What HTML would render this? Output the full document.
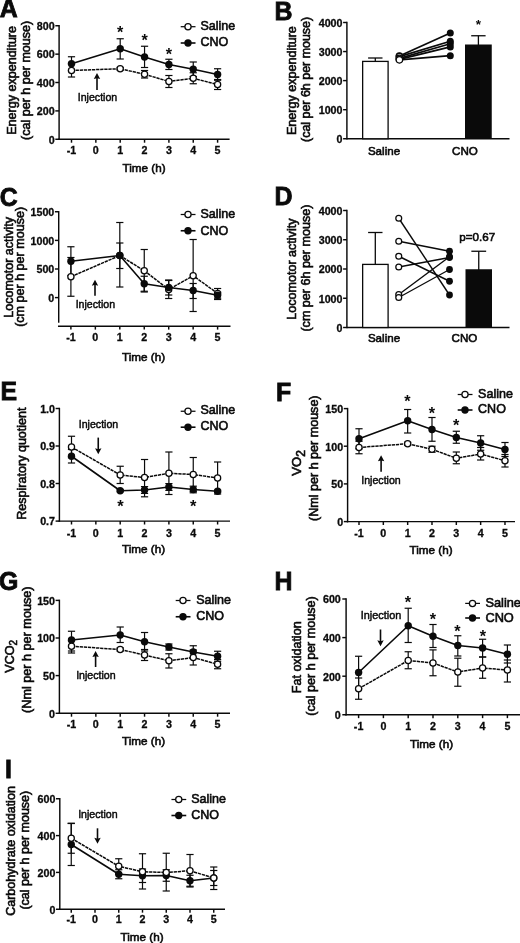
<!DOCTYPE html>
<html lang="en">
<head>
<meta charset="utf-8">
<title>Figure: energy expenditure, locomotor activity and substrate oxidation after saline or CNO injection</title>
<style>
html,body{margin:0;padding:0;background:#fff;}
body{width:520px;height:943px;overflow:hidden;}
svg{display:block;font-family:"Liberation Sans",sans-serif;fill:#0a0a0a;}
</style>
</head>
<body>
<svg role="img" aria-label="Nine-panel figure: energy expenditure, locomotor activity, respiratory quotient, VO2, VCO2, fat and carbohydrate oxidation after saline or CNO injection" width="520" height="943" viewBox="0 0 520 943">
<rect x="0" y="0" width="520" height="943" fill="#fff"/>
<g>
<text x="-0.3" y="17" font-size="24.9" font-weight="bold" stroke="#0a0a0a" stroke-width="0.8" stroke-linejoin="miter" text-anchor="start">A</text>
<line x1="59.1" y1="25.02" x2="59.1" y2="139.97" stroke="#0a0a0a" stroke-width="1.45" stroke-linecap="butt"/>
<line x1="55.3" y1="25.75" x2="59.1" y2="25.75" stroke="#0a0a0a" stroke-width="1.45" stroke-linecap="butt"/>
<text x="54.7" y="30" font-size="10.7" font-weight="bold" stroke="#0a0a0a" stroke-width="0.3" text-anchor="end">800</text>
<line x1="55.3" y1="54.15" x2="59.1" y2="54.15" stroke="#0a0a0a" stroke-width="1.45" stroke-linecap="butt"/>
<text x="54.7" y="58" font-size="10.7" font-weight="bold" stroke="#0a0a0a" stroke-width="0.3" text-anchor="end">600</text>
<line x1="55.3" y1="82.5" x2="59.1" y2="82.5" stroke="#0a0a0a" stroke-width="1.45" stroke-linecap="butt"/>
<text x="54.7" y="87" font-size="10.7" font-weight="bold" stroke="#0a0a0a" stroke-width="0.3" text-anchor="end">400</text>
<line x1="55.3" y1="110.9" x2="59.1" y2="110.9" stroke="#0a0a0a" stroke-width="1.45" stroke-linecap="butt"/>
<text x="54.7" y="115" font-size="10.7" font-weight="bold" stroke="#0a0a0a" stroke-width="0.3" text-anchor="end">200</text>
<line x1="55.3" y1="139.25" x2="59.1" y2="139.25" stroke="#0a0a0a" stroke-width="1.45" stroke-linecap="butt"/>
<text x="54.7" y="144" font-size="10.7" font-weight="bold" stroke="#0a0a0a" stroke-width="0.3" text-anchor="end">0</text>
<line x1="58.38" y1="139.3" x2="229.6" y2="139.3" stroke="#0a0a0a" stroke-width="1.45" stroke-linecap="butt"/>
<line x1="71.5" y1="139.3" x2="71.5" y2="142.7" stroke="#0a0a0a" stroke-width="1.45" stroke-linecap="butt"/>
<text x="71.5" y="154.45" font-size="10.7" font-weight="bold" stroke="#0a0a0a" stroke-width="0.3" text-anchor="middle">-1</text>
<line x1="95.85" y1="139.3" x2="95.85" y2="142.7" stroke="#0a0a0a" stroke-width="1.45" stroke-linecap="butt"/>
<text x="95.85" y="154.45" font-size="10.7" font-weight="bold" stroke="#0a0a0a" stroke-width="0.3" text-anchor="middle">0</text>
<line x1="120.2" y1="139.3" x2="120.2" y2="142.7" stroke="#0a0a0a" stroke-width="1.45" stroke-linecap="butt"/>
<text x="120.2" y="154.45" font-size="10.7" font-weight="bold" stroke="#0a0a0a" stroke-width="0.3" text-anchor="middle">1</text>
<line x1="144.55" y1="139.3" x2="144.55" y2="142.7" stroke="#0a0a0a" stroke-width="1.45" stroke-linecap="butt"/>
<text x="144.55" y="154.45" font-size="10.7" font-weight="bold" stroke="#0a0a0a" stroke-width="0.3" text-anchor="middle">2</text>
<line x1="168.9" y1="139.3" x2="168.9" y2="142.7" stroke="#0a0a0a" stroke-width="1.45" stroke-linecap="butt"/>
<text x="168.9" y="154.45" font-size="10.7" font-weight="bold" stroke="#0a0a0a" stroke-width="0.3" text-anchor="middle">3</text>
<line x1="193.25" y1="139.3" x2="193.25" y2="142.7" stroke="#0a0a0a" stroke-width="1.45" stroke-linecap="butt"/>
<text x="193.25" y="154.45" font-size="10.7" font-weight="bold" stroke="#0a0a0a" stroke-width="0.3" text-anchor="middle">4</text>
<line x1="217.6" y1="139.3" x2="217.6" y2="142.7" stroke="#0a0a0a" stroke-width="1.45" stroke-linecap="butt"/>
<text x="217.6" y="154.45" font-size="10.7" font-weight="bold" stroke="#0a0a0a" stroke-width="0.3" text-anchor="middle">5</text>
<text x="144" y="171.9" font-size="11.7" stroke="#0a0a0a" stroke-width="0.6" text-anchor="middle">Time (h)</text>
<text x="16.3" y="80.4" font-size="12.55" stroke="#0a0a0a" stroke-width="0.6" text-anchor="middle" transform="rotate(-90 16.3 80.4)">Energy expenditure</text>
<text x="29.6" y="80.4" font-size="12.55" stroke="#0a0a0a" stroke-width="0.6" text-anchor="middle" transform="rotate(-90 29.6 80.4)">(cal per h per mouse)</text>
<line x1="71.5" y1="56.75" x2="71.5" y2="70.75" stroke="#0a0a0a" stroke-width="1.2" stroke-linecap="butt"/>
<line x1="67.9" y1="56.75" x2="75.1" y2="56.75" stroke="#0a0a0a" stroke-width="1.2" stroke-linecap="butt"/>
<line x1="67.9" y1="70.75" x2="75.1" y2="70.75" stroke="#0a0a0a" stroke-width="1.2" stroke-linecap="butt"/>
<line x1="120.2" y1="38.75" x2="120.2" y2="59" stroke="#0a0a0a" stroke-width="1.2" stroke-linecap="butt"/>
<line x1="116.6" y1="38.75" x2="123.8" y2="38.75" stroke="#0a0a0a" stroke-width="1.2" stroke-linecap="butt"/>
<line x1="116.6" y1="59" x2="123.8" y2="59" stroke="#0a0a0a" stroke-width="1.2" stroke-linecap="butt"/>
<line x1="144.55" y1="46.25" x2="144.55" y2="67.5" stroke="#0a0a0a" stroke-width="1.2" stroke-linecap="butt"/>
<line x1="140.95" y1="46.25" x2="148.15" y2="46.25" stroke="#0a0a0a" stroke-width="1.2" stroke-linecap="butt"/>
<line x1="140.95" y1="67.5" x2="148.15" y2="67.5" stroke="#0a0a0a" stroke-width="1.2" stroke-linecap="butt"/>
<line x1="168.9" y1="59.25" x2="168.9" y2="69.5" stroke="#0a0a0a" stroke-width="1.2" stroke-linecap="butt"/>
<line x1="165.3" y1="59.25" x2="172.5" y2="59.25" stroke="#0a0a0a" stroke-width="1.2" stroke-linecap="butt"/>
<line x1="165.3" y1="69.5" x2="172.5" y2="69.5" stroke="#0a0a0a" stroke-width="1.2" stroke-linecap="butt"/>
<line x1="193.25" y1="62" x2="193.25" y2="76.5" stroke="#0a0a0a" stroke-width="1.2" stroke-linecap="butt"/>
<line x1="189.65" y1="62" x2="196.85" y2="62" stroke="#0a0a0a" stroke-width="1.2" stroke-linecap="butt"/>
<line x1="189.65" y1="76.5" x2="196.85" y2="76.5" stroke="#0a0a0a" stroke-width="1.2" stroke-linecap="butt"/>
<line x1="217.6" y1="68.75" x2="217.6" y2="80.25" stroke="#0a0a0a" stroke-width="1.2" stroke-linecap="butt"/>
<line x1="214" y1="68.75" x2="221.2" y2="68.75" stroke="#0a0a0a" stroke-width="1.2" stroke-linecap="butt"/>
<line x1="214" y1="80.25" x2="221.2" y2="80.25" stroke="#0a0a0a" stroke-width="1.2" stroke-linecap="butt"/>
<line x1="71.5" y1="64" x2="71.5" y2="77" stroke="#0a0a0a" stroke-width="1.2" stroke-linecap="butt"/>
<line x1="67.9" y1="64" x2="75.1" y2="64" stroke="#0a0a0a" stroke-width="1.2" stroke-linecap="butt"/>
<line x1="67.9" y1="77" x2="75.1" y2="77" stroke="#0a0a0a" stroke-width="1.2" stroke-linecap="butt"/>
<line x1="120.2" y1="67.5" x2="120.2" y2="70" stroke="#0a0a0a" stroke-width="1.2" stroke-linecap="butt"/>
<line x1="116.6" y1="67.5" x2="123.8" y2="67.5" stroke="#0a0a0a" stroke-width="1.2" stroke-linecap="butt"/>
<line x1="116.6" y1="70" x2="123.8" y2="70" stroke="#0a0a0a" stroke-width="1.2" stroke-linecap="butt"/>
<line x1="144.55" y1="70.5" x2="144.55" y2="78" stroke="#0a0a0a" stroke-width="1.2" stroke-linecap="butt"/>
<line x1="140.95" y1="70.5" x2="148.15" y2="70.5" stroke="#0a0a0a" stroke-width="1.2" stroke-linecap="butt"/>
<line x1="140.95" y1="78" x2="148.15" y2="78" stroke="#0a0a0a" stroke-width="1.2" stroke-linecap="butt"/>
<line x1="168.9" y1="75.5" x2="168.9" y2="87.5" stroke="#0a0a0a" stroke-width="1.2" stroke-linecap="butt"/>
<line x1="165.3" y1="75.5" x2="172.5" y2="75.5" stroke="#0a0a0a" stroke-width="1.2" stroke-linecap="butt"/>
<line x1="165.3" y1="87.5" x2="172.5" y2="87.5" stroke="#0a0a0a" stroke-width="1.2" stroke-linecap="butt"/>
<line x1="193.25" y1="72.75" x2="193.25" y2="83.75" stroke="#0a0a0a" stroke-width="1.2" stroke-linecap="butt"/>
<line x1="189.65" y1="72.75" x2="196.85" y2="72.75" stroke="#0a0a0a" stroke-width="1.2" stroke-linecap="butt"/>
<line x1="189.65" y1="83.75" x2="196.85" y2="83.75" stroke="#0a0a0a" stroke-width="1.2" stroke-linecap="butt"/>
<line x1="217.6" y1="79.5" x2="217.6" y2="89.5" stroke="#0a0a0a" stroke-width="1.2" stroke-linecap="butt"/>
<line x1="214" y1="79.5" x2="221.2" y2="79.5" stroke="#0a0a0a" stroke-width="1.2" stroke-linecap="butt"/>
<line x1="214" y1="89.5" x2="221.2" y2="89.5" stroke="#0a0a0a" stroke-width="1.2" stroke-linecap="butt"/>
<polyline points="71.5,63.75 120.2,48.75 144.55,57 168.9,64.5 193.25,69.25 217.6,74.5" fill="none" stroke="#0a0a0a" stroke-width="1.6" stroke-linejoin="round"/>
<polyline points="71.5,70.5 120.2,68.75 144.55,74.25 168.9,81.5 193.25,78.25 217.6,84.5" fill="none" stroke="#0a0a0a" stroke-width="1.5" stroke-linejoin="round" stroke-dasharray="3.3 0.8"/>
<circle cx="71.5" cy="63.75" r="3.7" fill="#0a0a0a"/>
<circle cx="120.2" cy="48.75" r="3.7" fill="#0a0a0a"/>
<circle cx="144.55" cy="57" r="3.7" fill="#0a0a0a"/>
<circle cx="168.9" cy="64.5" r="3.7" fill="#0a0a0a"/>
<circle cx="193.25" cy="69.25" r="3.7" fill="#0a0a0a"/>
<circle cx="217.6" cy="74.5" r="3.7" fill="#0a0a0a"/>
<circle cx="71.5" cy="70.5" r="3.1" fill="#fff" stroke="#0a0a0a" stroke-width="1.25"/>
<circle cx="120.2" cy="68.75" r="3.1" fill="#fff" stroke="#0a0a0a" stroke-width="1.25"/>
<circle cx="144.55" cy="74.25" r="3.1" fill="#fff" stroke="#0a0a0a" stroke-width="1.25"/>
<circle cx="168.9" cy="81.5" r="3.1" fill="#fff" stroke="#0a0a0a" stroke-width="1.25"/>
<circle cx="193.25" cy="78.25" r="3.1" fill="#fff" stroke="#0a0a0a" stroke-width="1.25"/>
<circle cx="217.6" cy="84.5" r="3.1" fill="#fff" stroke="#0a0a0a" stroke-width="1.25"/>
<text x="120.2" y="38.1" font-size="16.2" font-weight="bold" text-anchor="middle">*</text>
<text x="144.55" y="45.6" font-size="16.2" font-weight="bold" text-anchor="middle">*</text>
<text x="168.9" y="60.1" font-size="16.2" font-weight="bold" text-anchor="middle">*</text>
<line x1="97" y1="89.9" x2="97" y2="76.6" stroke="#0a0a0a" stroke-width="1.6" stroke-linecap="butt"/>
<path d="M97 73 L93.8 79 L97 78.16 L100.2 79 Z" fill="#0a0a0a"/>
<text x="97.5" y="101.2" font-size="10.6" stroke="#0a0a0a" stroke-width="0.45" text-anchor="middle">Injection</text>
<line x1="180.7" y1="26.7" x2="195.5" y2="26.7" stroke="#0a0a0a" stroke-width="1.25" stroke-linecap="butt"/>
<circle cx="188" cy="26.7" r="3.1" fill="#fff" stroke="#0a0a0a" stroke-width="1.25"/>
<text x="200.5" y="30" font-size="12.5" stroke="#0a0a0a" stroke-width="0.6" text-anchor="start">Saline</text>
<line x1="180.7" y1="43" x2="195.5" y2="43" stroke="#0a0a0a" stroke-width="1.6" stroke-linecap="butt"/>
<circle cx="188" cy="43" r="3.7" fill="#0a0a0a"/>
<text x="200.5" y="45.7" font-size="12.5" stroke="#0a0a0a" stroke-width="0.6" text-anchor="start">CNO</text>
</g>
<g>
<text x="274.5" y="19.85" font-size="24.9" font-weight="bold" stroke="#0a0a0a" stroke-width="0.8" stroke-linejoin="miter" text-anchor="start">B</text>
<line x1="346.9" y1="21.77" x2="346.9" y2="139.47" stroke="#0a0a0a" stroke-width="1.45" stroke-linecap="butt"/>
<line x1="343.1" y1="22.5" x2="346.9" y2="22.5" stroke="#0a0a0a" stroke-width="1.45" stroke-linecap="butt"/>
<text x="342.5" y="27" font-size="10.7" font-weight="bold" stroke="#0a0a0a" stroke-width="0.3" text-anchor="end">4000</text>
<line x1="343.1" y1="51.55" x2="346.9" y2="51.55" stroke="#0a0a0a" stroke-width="1.45" stroke-linecap="butt"/>
<text x="342.5" y="56" font-size="10.7" font-weight="bold" stroke="#0a0a0a" stroke-width="0.3" text-anchor="end">3000</text>
<line x1="343.1" y1="80.6" x2="346.9" y2="80.6" stroke="#0a0a0a" stroke-width="1.45" stroke-linecap="butt"/>
<text x="342.5" y="85" font-size="10.7" font-weight="bold" stroke="#0a0a0a" stroke-width="0.3" text-anchor="end">2000</text>
<line x1="343.1" y1="109.7" x2="346.9" y2="109.7" stroke="#0a0a0a" stroke-width="1.45" stroke-linecap="butt"/>
<text x="342.5" y="114" font-size="10.7" font-weight="bold" stroke="#0a0a0a" stroke-width="0.3" text-anchor="end">1000</text>
<line x1="343.1" y1="138.75" x2="346.9" y2="138.75" stroke="#0a0a0a" stroke-width="1.45" stroke-linecap="butt"/>
<text x="342.5" y="143" font-size="10.7" font-weight="bold" stroke="#0a0a0a" stroke-width="0.3" text-anchor="end">0</text>
<line x1="346.9" y1="138.75" x2="509.5" y2="138.75" stroke="#0a0a0a" stroke-width="1.45" stroke-linecap="butt"/>
<text x="296.4" y="80.6" font-size="12.55" stroke="#0a0a0a" stroke-width="0.6" text-anchor="middle" transform="rotate(-90 296.4 80.6)">Energy expenditure</text>
<text x="309.7" y="79.4" font-size="12.45" stroke="#0a0a0a" stroke-width="0.6" text-anchor="middle" transform="rotate(-90 309.7 79.4)">(cal per 6h per mouse)</text>
<line x1="375.3" y1="58" x2="375.3" y2="61" stroke="#0a0a0a" stroke-width="1.3" stroke-linecap="butt"/>
<line x1="368.1" y1="58" x2="382.5" y2="58" stroke="#0a0a0a" stroke-width="1.3" stroke-linecap="butt"/>
<rect x="362.65" y="61.4" width="25.45" height="77.35" fill="#fff" stroke="#0a0a0a" stroke-width="1.3"/>
<line x1="478.4" y1="35.75" x2="478.4" y2="45" stroke="#0a0a0a" stroke-width="1.3" stroke-linecap="butt"/>
<line x1="471.2" y1="35.75" x2="485.6" y2="35.75" stroke="#0a0a0a" stroke-width="1.3" stroke-linecap="butt"/>
<rect x="465" y="44.5" width="26.75" height="94.25" fill="#0a0a0a"/>
<line x1="399.4" y1="56" x2="450.3" y2="33" stroke="#0a0a0a" stroke-width="1.7" stroke-linecap="butt"/>
<line x1="399.4" y1="56.6" x2="450.3" y2="41.2" stroke="#0a0a0a" stroke-width="1.7" stroke-linecap="butt"/>
<line x1="399.4" y1="58.4" x2="450.3" y2="43.8" stroke="#0a0a0a" stroke-width="1.7" stroke-linecap="butt"/>
<line x1="399.4" y1="59.3" x2="450.3" y2="46.9" stroke="#0a0a0a" stroke-width="1.7" stroke-linecap="butt"/>
<line x1="399.4" y1="59.8" x2="450.3" y2="55.7" stroke="#0a0a0a" stroke-width="1.7" stroke-linecap="butt"/>
<circle cx="399.4" cy="56" r="3.2" fill="#fff" stroke="#0a0a0a" stroke-width="1.25"/>
<circle cx="399.4" cy="56.6" r="3.2" fill="#fff" stroke="#0a0a0a" stroke-width="1.25"/>
<circle cx="399.4" cy="58.4" r="3.2" fill="#fff" stroke="#0a0a0a" stroke-width="1.25"/>
<circle cx="399.4" cy="59.3" r="3.2" fill="#fff" stroke="#0a0a0a" stroke-width="1.25"/>
<circle cx="399.4" cy="59.8" r="3.2" fill="#fff" stroke="#0a0a0a" stroke-width="1.25"/>
<circle cx="450.3" cy="33" r="3.5" fill="#0a0a0a"/>
<circle cx="450.3" cy="41.2" r="3.5" fill="#0a0a0a"/>
<circle cx="450.3" cy="43.8" r="3.5" fill="#0a0a0a"/>
<circle cx="450.3" cy="46.9" r="3.5" fill="#0a0a0a"/>
<circle cx="450.3" cy="55.7" r="3.5" fill="#0a0a0a"/>
<text x="478.5" y="29.35" font-size="13.5" font-weight="bold" text-anchor="middle">*</text>
<text x="384" y="154.6" font-size="11.6" stroke="#0a0a0a" stroke-width="0.6" text-anchor="middle">Saline</text>
<text x="465" y="154.6" font-size="11.6" stroke="#0a0a0a" stroke-width="0.6" text-anchor="middle">CNO</text>
</g>
<g>
<text x="-0.3" y="205.6" font-size="24.9" font-weight="bold" stroke="#0a0a0a" stroke-width="0.8" stroke-linejoin="miter" text-anchor="start">C</text>
<line x1="58.7" y1="211.03" x2="58.7" y2="322.73" stroke="#0a0a0a" stroke-width="1.45" stroke-linecap="butt"/>
<line x1="54.9" y1="211.75" x2="58.7" y2="211.75" stroke="#0a0a0a" stroke-width="1.45" stroke-linecap="butt"/>
<text x="54.3" y="216" font-size="10.7" font-weight="bold" stroke="#0a0a0a" stroke-width="0.3" text-anchor="end">1500</text>
<line x1="54.9" y1="240.4" x2="58.7" y2="240.4" stroke="#0a0a0a" stroke-width="1.45" stroke-linecap="butt"/>
<text x="54.3" y="245" font-size="10.7" font-weight="bold" stroke="#0a0a0a" stroke-width="0.3" text-anchor="end">1000</text>
<line x1="54.9" y1="269" x2="58.7" y2="269" stroke="#0a0a0a" stroke-width="1.45" stroke-linecap="butt"/>
<text x="54.3" y="273" font-size="10.7" font-weight="bold" stroke="#0a0a0a" stroke-width="0.3" text-anchor="end">500</text>
<line x1="54.9" y1="297.6" x2="58.7" y2="297.6" stroke="#0a0a0a" stroke-width="1.45" stroke-linecap="butt"/>
<text x="54.3" y="302" font-size="10.7" font-weight="bold" stroke="#0a0a0a" stroke-width="0.3" text-anchor="end">0</text>
<line x1="57.98" y1="326.2" x2="230.5" y2="326.2" stroke="#0a0a0a" stroke-width="1.45" stroke-linecap="butt"/>
<line x1="70.9" y1="326.2" x2="70.9" y2="329.6" stroke="#0a0a0a" stroke-width="1.45" stroke-linecap="butt"/>
<text x="70.9" y="340.85" font-size="10.7" font-weight="bold" stroke="#0a0a0a" stroke-width="0.3" text-anchor="middle">-1</text>
<line x1="95.35" y1="326.2" x2="95.35" y2="329.6" stroke="#0a0a0a" stroke-width="1.45" stroke-linecap="butt"/>
<text x="95.35" y="340.85" font-size="10.7" font-weight="bold" stroke="#0a0a0a" stroke-width="0.3" text-anchor="middle">0</text>
<line x1="119.8" y1="326.2" x2="119.8" y2="329.6" stroke="#0a0a0a" stroke-width="1.45" stroke-linecap="butt"/>
<text x="119.8" y="340.85" font-size="10.7" font-weight="bold" stroke="#0a0a0a" stroke-width="0.3" text-anchor="middle">1</text>
<line x1="144.25" y1="326.2" x2="144.25" y2="329.6" stroke="#0a0a0a" stroke-width="1.45" stroke-linecap="butt"/>
<text x="144.25" y="340.85" font-size="10.7" font-weight="bold" stroke="#0a0a0a" stroke-width="0.3" text-anchor="middle">2</text>
<line x1="168.7" y1="326.2" x2="168.7" y2="329.6" stroke="#0a0a0a" stroke-width="1.45" stroke-linecap="butt"/>
<text x="168.7" y="340.85" font-size="10.7" font-weight="bold" stroke="#0a0a0a" stroke-width="0.3" text-anchor="middle">3</text>
<line x1="193.15" y1="326.2" x2="193.15" y2="329.6" stroke="#0a0a0a" stroke-width="1.45" stroke-linecap="butt"/>
<text x="193.15" y="340.85" font-size="10.7" font-weight="bold" stroke="#0a0a0a" stroke-width="0.3" text-anchor="middle">4</text>
<line x1="217.6" y1="326.2" x2="217.6" y2="329.6" stroke="#0a0a0a" stroke-width="1.45" stroke-linecap="butt"/>
<text x="217.6" y="340.85" font-size="10.7" font-weight="bold" stroke="#0a0a0a" stroke-width="0.3" text-anchor="middle">5</text>
<text x="143.5" y="361.2" font-size="11.7" stroke="#0a0a0a" stroke-width="0.6" text-anchor="middle">Time (h)</text>
<text x="12.7" y="267.3" font-size="12.5" stroke="#0a0a0a" stroke-width="0.6" text-anchor="middle" transform="rotate(-90 12.7 267.3)">Locomotor activity</text>
<text x="24.1" y="266.9" font-size="12.55" stroke="#0a0a0a" stroke-width="0.6" text-anchor="middle" transform="rotate(-90 24.1 266.9)">(cm per h per mouse)</text>
<line x1="70.9" y1="246.75" x2="70.9" y2="275.75" stroke="#0a0a0a" stroke-width="1.2" stroke-linecap="butt"/>
<line x1="67.3" y1="246.75" x2="74.5" y2="246.75" stroke="#0a0a0a" stroke-width="1.2" stroke-linecap="butt"/>
<line x1="67.3" y1="275.75" x2="74.5" y2="275.75" stroke="#0a0a0a" stroke-width="1.2" stroke-linecap="butt"/>
<line x1="119.8" y1="243" x2="119.8" y2="268.5" stroke="#0a0a0a" stroke-width="1.2" stroke-linecap="butt"/>
<line x1="116.2" y1="243" x2="123.4" y2="243" stroke="#0a0a0a" stroke-width="1.2" stroke-linecap="butt"/>
<line x1="116.2" y1="268.5" x2="123.4" y2="268.5" stroke="#0a0a0a" stroke-width="1.2" stroke-linecap="butt"/>
<line x1="144.25" y1="276.25" x2="144.25" y2="291.25" stroke="#0a0a0a" stroke-width="1.2" stroke-linecap="butt"/>
<line x1="140.65" y1="276.25" x2="147.85" y2="276.25" stroke="#0a0a0a" stroke-width="1.2" stroke-linecap="butt"/>
<line x1="140.65" y1="291.25" x2="147.85" y2="291.25" stroke="#0a0a0a" stroke-width="1.2" stroke-linecap="butt"/>
<line x1="168.7" y1="280" x2="168.7" y2="295" stroke="#0a0a0a" stroke-width="1.2" stroke-linecap="butt"/>
<line x1="165.1" y1="280" x2="172.3" y2="280" stroke="#0a0a0a" stroke-width="1.2" stroke-linecap="butt"/>
<line x1="165.1" y1="295" x2="172.3" y2="295" stroke="#0a0a0a" stroke-width="1.2" stroke-linecap="butt"/>
<line x1="193.15" y1="283.5" x2="193.15" y2="298.5" stroke="#0a0a0a" stroke-width="1.2" stroke-linecap="butt"/>
<line x1="189.55" y1="283.5" x2="196.75" y2="283.5" stroke="#0a0a0a" stroke-width="1.2" stroke-linecap="butt"/>
<line x1="189.55" y1="298.5" x2="196.75" y2="298.5" stroke="#0a0a0a" stroke-width="1.2" stroke-linecap="butt"/>
<line x1="217.6" y1="292.2" x2="217.6" y2="298.2" stroke="#0a0a0a" stroke-width="1.2" stroke-linecap="butt"/>
<line x1="214" y1="292.2" x2="221.2" y2="292.2" stroke="#0a0a0a" stroke-width="1.2" stroke-linecap="butt"/>
<line x1="214" y1="298.2" x2="221.2" y2="298.2" stroke="#0a0a0a" stroke-width="1.2" stroke-linecap="butt"/>
<line x1="70.9" y1="257.5" x2="70.9" y2="296.25" stroke="#0a0a0a" stroke-width="1.2" stroke-linecap="butt"/>
<line x1="67.3" y1="257.5" x2="74.5" y2="257.5" stroke="#0a0a0a" stroke-width="1.2" stroke-linecap="butt"/>
<line x1="67.3" y1="296.25" x2="74.5" y2="296.25" stroke="#0a0a0a" stroke-width="1.2" stroke-linecap="butt"/>
<line x1="119.8" y1="222.5" x2="119.8" y2="287" stroke="#0a0a0a" stroke-width="1.2" stroke-linecap="butt"/>
<line x1="116.2" y1="222.5" x2="123.4" y2="222.5" stroke="#0a0a0a" stroke-width="1.2" stroke-linecap="butt"/>
<line x1="116.2" y1="287" x2="123.4" y2="287" stroke="#0a0a0a" stroke-width="1.2" stroke-linecap="butt"/>
<line x1="144.25" y1="249.5" x2="144.25" y2="292" stroke="#0a0a0a" stroke-width="1.2" stroke-linecap="butt"/>
<line x1="140.65" y1="249.5" x2="147.85" y2="249.5" stroke="#0a0a0a" stroke-width="1.2" stroke-linecap="butt"/>
<line x1="140.65" y1="292" x2="147.85" y2="292" stroke="#0a0a0a" stroke-width="1.2" stroke-linecap="butt"/>
<line x1="168.7" y1="280.5" x2="168.7" y2="298.5" stroke="#0a0a0a" stroke-width="1.2" stroke-linecap="butt"/>
<line x1="165.1" y1="280.5" x2="172.3" y2="280.5" stroke="#0a0a0a" stroke-width="1.2" stroke-linecap="butt"/>
<line x1="165.1" y1="298.5" x2="172.3" y2="298.5" stroke="#0a0a0a" stroke-width="1.2" stroke-linecap="butt"/>
<line x1="193.15" y1="239.5" x2="193.15" y2="311.5" stroke="#0a0a0a" stroke-width="1.2" stroke-linecap="butt"/>
<line x1="189.55" y1="239.5" x2="196.75" y2="239.5" stroke="#0a0a0a" stroke-width="1.2" stroke-linecap="butt"/>
<line x1="189.55" y1="311.5" x2="196.75" y2="311.5" stroke="#0a0a0a" stroke-width="1.2" stroke-linecap="butt"/>
<line x1="217.6" y1="288.5" x2="217.6" y2="299.5" stroke="#0a0a0a" stroke-width="1.2" stroke-linecap="butt"/>
<line x1="214" y1="288.5" x2="221.2" y2="288.5" stroke="#0a0a0a" stroke-width="1.2" stroke-linecap="butt"/>
<line x1="214" y1="299.5" x2="221.2" y2="299.5" stroke="#0a0a0a" stroke-width="1.2" stroke-linecap="butt"/>
<polyline points="70.9,261.25 119.8,255.5 144.25,283.75 168.7,287.5 193.15,290.5 217.6,295.2" fill="none" stroke="#0a0a0a" stroke-width="1.6" stroke-linejoin="round"/>
<polyline points="70.9,276.75 119.8,255.5 144.25,270.75 168.7,289.5 193.15,275.75 217.6,293.4" fill="none" stroke="#0a0a0a" stroke-width="1.5" stroke-linejoin="round" stroke-dasharray="3.3 0.8"/>
<circle cx="70.9" cy="276.75" r="3.1" fill="#fff" stroke="#0a0a0a" stroke-width="1.25"/>
<circle cx="119.8" cy="255.5" r="3.1" fill="#fff" stroke="#0a0a0a" stroke-width="1.25"/>
<circle cx="144.25" cy="270.75" r="3.1" fill="#fff" stroke="#0a0a0a" stroke-width="1.25"/>
<circle cx="168.7" cy="289.5" r="3.1" fill="#fff" stroke="#0a0a0a" stroke-width="1.25"/>
<circle cx="193.15" cy="275.75" r="3.1" fill="#fff" stroke="#0a0a0a" stroke-width="1.25"/>
<circle cx="217.6" cy="293.4" r="3.1" fill="#fff" stroke="#0a0a0a" stroke-width="1.25"/>
<circle cx="70.9" cy="261.25" r="3.7" fill="#0a0a0a"/>
<circle cx="119.8" cy="255.5" r="3.7" fill="#0a0a0a"/>
<circle cx="144.25" cy="283.75" r="3.7" fill="#0a0a0a"/>
<circle cx="168.7" cy="287.5" r="3.7" fill="#0a0a0a"/>
<circle cx="193.15" cy="290.5" r="3.7" fill="#0a0a0a"/>
<circle cx="217.6" cy="295.2" r="3.7" fill="#0a0a0a"/>
<line x1="95" y1="295.8" x2="95" y2="283.3" stroke="#0a0a0a" stroke-width="1.6" stroke-linecap="butt"/>
<path d="M95 279.7 L91.8 285.7 L95 284.86 L98.2 285.7 Z" fill="#0a0a0a"/>
<text x="95.4" y="307.6" font-size="10.6" stroke="#0a0a0a" stroke-width="0.45" text-anchor="middle">Injection</text>
<line x1="180.7" y1="214.5" x2="195.5" y2="214.5" stroke="#0a0a0a" stroke-width="1.25" stroke-linecap="butt"/>
<circle cx="188" cy="214.5" r="3.1" fill="#fff" stroke="#0a0a0a" stroke-width="1.25"/>
<text x="200.5" y="218.4" font-size="12.5" stroke="#0a0a0a" stroke-width="0.6" text-anchor="start">Saline</text>
<line x1="180.7" y1="230.75" x2="195.5" y2="230.75" stroke="#0a0a0a" stroke-width="1.6" stroke-linecap="butt"/>
<circle cx="188" cy="230.75" r="3.7" fill="#0a0a0a"/>
<text x="200.5" y="234.5" font-size="12.5" stroke="#0a0a0a" stroke-width="0.6" text-anchor="start">CNO</text>
</g>
<g>
<text x="274.5" y="205.1" font-size="24.9" font-weight="bold" stroke="#0a0a0a" stroke-width="0.8" stroke-linejoin="miter" text-anchor="start">D</text>
<line x1="346.9" y1="209.78" x2="346.9" y2="328.23" stroke="#0a0a0a" stroke-width="1.45" stroke-linecap="butt"/>
<line x1="343.1" y1="210.5" x2="346.9" y2="210.5" stroke="#0a0a0a" stroke-width="1.45" stroke-linecap="butt"/>
<text x="342.5" y="215" font-size="10.7" font-weight="bold" stroke="#0a0a0a" stroke-width="0.3" text-anchor="end">4000</text>
<line x1="343.1" y1="239.75" x2="346.9" y2="239.75" stroke="#0a0a0a" stroke-width="1.45" stroke-linecap="butt"/>
<text x="342.5" y="244" font-size="10.7" font-weight="bold" stroke="#0a0a0a" stroke-width="0.3" text-anchor="end">3000</text>
<line x1="343.1" y1="269" x2="346.9" y2="269" stroke="#0a0a0a" stroke-width="1.45" stroke-linecap="butt"/>
<text x="342.5" y="273" font-size="10.7" font-weight="bold" stroke="#0a0a0a" stroke-width="0.3" text-anchor="end">2000</text>
<line x1="343.1" y1="298.25" x2="346.9" y2="298.25" stroke="#0a0a0a" stroke-width="1.45" stroke-linecap="butt"/>
<text x="342.5" y="303" font-size="10.7" font-weight="bold" stroke="#0a0a0a" stroke-width="0.3" text-anchor="end">1000</text>
<line x1="343.1" y1="327.5" x2="346.9" y2="327.5" stroke="#0a0a0a" stroke-width="1.45" stroke-linecap="butt"/>
<text x="342.5" y="332" font-size="10.7" font-weight="bold" stroke="#0a0a0a" stroke-width="0.3" text-anchor="end">0</text>
<line x1="346.9" y1="327.5" x2="509.5" y2="327.5" stroke="#0a0a0a" stroke-width="1.45" stroke-linecap="butt"/>
<text x="296.3" y="269.1" font-size="12.55" stroke="#0a0a0a" stroke-width="0.6" text-anchor="middle" transform="rotate(-90 296.3 269.1)">Locomotor activity</text>
<text x="309.6" y="268.1" font-size="12.55" stroke="#0a0a0a" stroke-width="0.6" text-anchor="middle" transform="rotate(-90 309.6 268.1)">(cm per 6h per mouse)</text>
<line x1="375.3" y1="232.5" x2="375.3" y2="264" stroke="#0a0a0a" stroke-width="1.3" stroke-linecap="butt"/>
<line x1="368.1" y1="232.5" x2="382.5" y2="232.5" stroke="#0a0a0a" stroke-width="1.3" stroke-linecap="butt"/>
<rect x="362.65" y="264.4" width="25.45" height="63.1" fill="#fff" stroke="#0a0a0a" stroke-width="1.3"/>
<line x1="478.75" y1="251.25" x2="478.75" y2="270" stroke="#0a0a0a" stroke-width="1.3" stroke-linecap="butt"/>
<line x1="471.35" y1="251.25" x2="486.15" y2="251.25" stroke="#0a0a0a" stroke-width="1.3" stroke-linecap="butt"/>
<rect x="465.5" y="269.25" width="26.5" height="58.25" fill="#0a0a0a"/>
<line x1="398.75" y1="218.25" x2="449.5" y2="295" stroke="#0a0a0a" stroke-width="1.4" stroke-linecap="butt"/>
<line x1="398.75" y1="241.25" x2="449.5" y2="251.2" stroke="#0a0a0a" stroke-width="1.4" stroke-linecap="butt"/>
<line x1="398.75" y1="256.25" x2="449.5" y2="281.25" stroke="#0a0a0a" stroke-width="1.4" stroke-linecap="butt"/>
<line x1="398.75" y1="267" x2="449.5" y2="257.5" stroke="#0a0a0a" stroke-width="1.4" stroke-linecap="butt"/>
<line x1="398.75" y1="294.5" x2="449.5" y2="256.7" stroke="#0a0a0a" stroke-width="1.4" stroke-linecap="butt"/>
<line x1="398.75" y1="297.5" x2="449.5" y2="269.5" stroke="#0a0a0a" stroke-width="1.4" stroke-linecap="butt"/>
<circle cx="398.75" cy="218.25" r="2.95" fill="#fff" stroke="#0a0a0a" stroke-width="1.25"/>
<circle cx="398.75" cy="241.25" r="2.95" fill="#fff" stroke="#0a0a0a" stroke-width="1.25"/>
<circle cx="398.75" cy="256.25" r="2.95" fill="#fff" stroke="#0a0a0a" stroke-width="1.25"/>
<circle cx="398.75" cy="267" r="2.95" fill="#fff" stroke="#0a0a0a" stroke-width="1.25"/>
<circle cx="398.75" cy="294.5" r="2.95" fill="#fff" stroke="#0a0a0a" stroke-width="1.25"/>
<circle cx="398.75" cy="297.5" r="2.95" fill="#fff" stroke="#0a0a0a" stroke-width="1.25"/>
<circle cx="449.5" cy="295" r="3.4" fill="#0a0a0a"/>
<circle cx="449.5" cy="251.2" r="3.4" fill="#0a0a0a"/>
<circle cx="449.5" cy="281.25" r="3.4" fill="#0a0a0a"/>
<circle cx="449.5" cy="257.5" r="3.4" fill="#0a0a0a"/>
<circle cx="449.5" cy="256.7" r="3.4" fill="#0a0a0a"/>
<circle cx="449.5" cy="269.5" r="3.4" fill="#0a0a0a"/>
<text x="477.25" y="241.3" font-size="11.6" stroke="#0a0a0a" stroke-width="0.6" text-anchor="middle">p=0.67</text>
<text x="384" y="342" font-size="11.6" stroke="#0a0a0a" stroke-width="0.6" text-anchor="middle">Saline</text>
<text x="464.5" y="342" font-size="11.6" stroke="#0a0a0a" stroke-width="0.6" text-anchor="middle">CNO</text>
</g>
<g>
<text x="0.45" y="400.4" font-size="24.9" font-weight="bold" stroke="#0a0a0a" stroke-width="0.8" stroke-linejoin="miter" text-anchor="start">E</text>
<line x1="59.4" y1="407.77" x2="59.4" y2="521.83" stroke="#0a0a0a" stroke-width="1.45" stroke-linecap="butt"/>
<line x1="55.6" y1="408.5" x2="59.4" y2="408.5" stroke="#0a0a0a" stroke-width="1.45" stroke-linecap="butt"/>
<text x="55" y="413" font-size="10.7" font-weight="bold" stroke="#0a0a0a" stroke-width="0.3" text-anchor="end">1.0</text>
<line x1="55.6" y1="446" x2="59.4" y2="446" stroke="#0a0a0a" stroke-width="1.45" stroke-linecap="butt"/>
<text x="55" y="450" font-size="10.7" font-weight="bold" stroke="#0a0a0a" stroke-width="0.3" text-anchor="end">0.9</text>
<line x1="55.6" y1="483.5" x2="59.4" y2="483.5" stroke="#0a0a0a" stroke-width="1.45" stroke-linecap="butt"/>
<text x="55" y="488" font-size="10.7" font-weight="bold" stroke="#0a0a0a" stroke-width="0.3" text-anchor="end">0.8</text>
<line x1="55.6" y1="521.1" x2="59.4" y2="521.1" stroke="#0a0a0a" stroke-width="1.45" stroke-linecap="butt"/>
<text x="55" y="525" font-size="10.7" font-weight="bold" stroke="#0a0a0a" stroke-width="0.3" text-anchor="end">0.7</text>
<line x1="58.67" y1="521.1" x2="230" y2="521.1" stroke="#0a0a0a" stroke-width="1.45" stroke-linecap="butt"/>
<line x1="71.5" y1="521.1" x2="71.5" y2="524.5" stroke="#0a0a0a" stroke-width="1.45" stroke-linecap="butt"/>
<text x="71.5" y="536.55" font-size="10.7" font-weight="bold" stroke="#0a0a0a" stroke-width="0.3" text-anchor="middle">-1</text>
<line x1="95.85" y1="521.1" x2="95.85" y2="524.5" stroke="#0a0a0a" stroke-width="1.45" stroke-linecap="butt"/>
<text x="95.85" y="536.55" font-size="10.7" font-weight="bold" stroke="#0a0a0a" stroke-width="0.3" text-anchor="middle">0</text>
<line x1="120.2" y1="521.1" x2="120.2" y2="524.5" stroke="#0a0a0a" stroke-width="1.45" stroke-linecap="butt"/>
<text x="120.2" y="536.55" font-size="10.7" font-weight="bold" stroke="#0a0a0a" stroke-width="0.3" text-anchor="middle">1</text>
<line x1="144.55" y1="521.1" x2="144.55" y2="524.5" stroke="#0a0a0a" stroke-width="1.45" stroke-linecap="butt"/>
<text x="144.55" y="536.55" font-size="10.7" font-weight="bold" stroke="#0a0a0a" stroke-width="0.3" text-anchor="middle">2</text>
<line x1="168.9" y1="521.1" x2="168.9" y2="524.5" stroke="#0a0a0a" stroke-width="1.45" stroke-linecap="butt"/>
<text x="168.9" y="536.55" font-size="10.7" font-weight="bold" stroke="#0a0a0a" stroke-width="0.3" text-anchor="middle">3</text>
<line x1="193.25" y1="521.1" x2="193.25" y2="524.5" stroke="#0a0a0a" stroke-width="1.45" stroke-linecap="butt"/>
<text x="193.25" y="536.55" font-size="10.7" font-weight="bold" stroke="#0a0a0a" stroke-width="0.3" text-anchor="middle">4</text>
<line x1="217.6" y1="521.1" x2="217.6" y2="524.5" stroke="#0a0a0a" stroke-width="1.45" stroke-linecap="butt"/>
<text x="217.6" y="536.55" font-size="10.7" font-weight="bold" stroke="#0a0a0a" stroke-width="0.3" text-anchor="middle">5</text>
<text x="143.5" y="553.1" font-size="11.7" stroke="#0a0a0a" stroke-width="0.6" text-anchor="middle">Time (h)</text>
<text x="25.7" y="463.6" font-size="12.55" stroke="#0a0a0a" stroke-width="0.6" text-anchor="middle" transform="rotate(-90 25.7 463.6)">Respiratory quotient</text>
<line x1="71.5" y1="449.5" x2="71.5" y2="463" stroke="#0a0a0a" stroke-width="1.2" stroke-linecap="butt"/>
<line x1="67.9" y1="449.5" x2="75.1" y2="449.5" stroke="#0a0a0a" stroke-width="1.2" stroke-linecap="butt"/>
<line x1="67.9" y1="463" x2="75.1" y2="463" stroke="#0a0a0a" stroke-width="1.2" stroke-linecap="butt"/>
<line x1="120.2" y1="489.75" x2="120.2" y2="491.75" stroke="#0a0a0a" stroke-width="1.2" stroke-linecap="butt"/>
<line x1="116.6" y1="489.75" x2="123.8" y2="489.75" stroke="#0a0a0a" stroke-width="1.2" stroke-linecap="butt"/>
<line x1="116.6" y1="491.75" x2="123.8" y2="491.75" stroke="#0a0a0a" stroke-width="1.2" stroke-linecap="butt"/>
<line x1="144.55" y1="486.6" x2="144.55" y2="493.4" stroke="#0a0a0a" stroke-width="1.2" stroke-linecap="butt"/>
<line x1="140.95" y1="486.6" x2="148.15" y2="486.6" stroke="#0a0a0a" stroke-width="1.2" stroke-linecap="butt"/>
<line x1="140.95" y1="493.4" x2="148.15" y2="493.4" stroke="#0a0a0a" stroke-width="1.2" stroke-linecap="butt"/>
<line x1="168.9" y1="483.6" x2="168.9" y2="490.4" stroke="#0a0a0a" stroke-width="1.2" stroke-linecap="butt"/>
<line x1="165.3" y1="483.6" x2="172.5" y2="483.6" stroke="#0a0a0a" stroke-width="1.2" stroke-linecap="butt"/>
<line x1="165.3" y1="490.4" x2="172.5" y2="490.4" stroke="#0a0a0a" stroke-width="1.2" stroke-linecap="butt"/>
<line x1="193.25" y1="486.2" x2="193.25" y2="492.8" stroke="#0a0a0a" stroke-width="1.2" stroke-linecap="butt"/>
<line x1="189.65" y1="486.2" x2="196.85" y2="486.2" stroke="#0a0a0a" stroke-width="1.2" stroke-linecap="butt"/>
<line x1="189.65" y1="492.8" x2="196.85" y2="492.8" stroke="#0a0a0a" stroke-width="1.2" stroke-linecap="butt"/>
<line x1="217.6" y1="490.25" x2="217.6" y2="492.25" stroke="#0a0a0a" stroke-width="1.2" stroke-linecap="butt"/>
<line x1="214" y1="490.25" x2="221.2" y2="490.25" stroke="#0a0a0a" stroke-width="1.2" stroke-linecap="butt"/>
<line x1="214" y1="492.25" x2="221.2" y2="492.25" stroke="#0a0a0a" stroke-width="1.2" stroke-linecap="butt"/>
<line x1="71.5" y1="436.25" x2="71.5" y2="457.75" stroke="#0a0a0a" stroke-width="1.2" stroke-linecap="butt"/>
<line x1="67.9" y1="436.25" x2="75.1" y2="436.25" stroke="#0a0a0a" stroke-width="1.2" stroke-linecap="butt"/>
<line x1="67.9" y1="457.75" x2="75.1" y2="457.75" stroke="#0a0a0a" stroke-width="1.2" stroke-linecap="butt"/>
<line x1="120.2" y1="466.25" x2="120.2" y2="483.5" stroke="#0a0a0a" stroke-width="1.2" stroke-linecap="butt"/>
<line x1="116.6" y1="466.25" x2="123.8" y2="466.25" stroke="#0a0a0a" stroke-width="1.2" stroke-linecap="butt"/>
<line x1="116.6" y1="483.5" x2="123.8" y2="483.5" stroke="#0a0a0a" stroke-width="1.2" stroke-linecap="butt"/>
<line x1="144.55" y1="459.5" x2="144.55" y2="496.8" stroke="#0a0a0a" stroke-width="1.2" stroke-linecap="butt"/>
<line x1="140.95" y1="459.5" x2="148.15" y2="459.5" stroke="#0a0a0a" stroke-width="1.2" stroke-linecap="butt"/>
<line x1="140.95" y1="496.8" x2="148.15" y2="496.8" stroke="#0a0a0a" stroke-width="1.2" stroke-linecap="butt"/>
<line x1="168.9" y1="452" x2="168.9" y2="494.5" stroke="#0a0a0a" stroke-width="1.2" stroke-linecap="butt"/>
<line x1="165.3" y1="452" x2="172.5" y2="452" stroke="#0a0a0a" stroke-width="1.2" stroke-linecap="butt"/>
<line x1="165.3" y1="494.5" x2="172.5" y2="494.5" stroke="#0a0a0a" stroke-width="1.2" stroke-linecap="butt"/>
<line x1="193.25" y1="457.5" x2="193.25" y2="491.5" stroke="#0a0a0a" stroke-width="1.2" stroke-linecap="butt"/>
<line x1="189.65" y1="457.5" x2="196.85" y2="457.5" stroke="#0a0a0a" stroke-width="1.2" stroke-linecap="butt"/>
<line x1="189.65" y1="491.5" x2="196.85" y2="491.5" stroke="#0a0a0a" stroke-width="1.2" stroke-linecap="butt"/>
<line x1="217.6" y1="462" x2="217.6" y2="494" stroke="#0a0a0a" stroke-width="1.2" stroke-linecap="butt"/>
<line x1="214" y1="462" x2="221.2" y2="462" stroke="#0a0a0a" stroke-width="1.2" stroke-linecap="butt"/>
<line x1="214" y1="494" x2="221.2" y2="494" stroke="#0a0a0a" stroke-width="1.2" stroke-linecap="butt"/>
<polyline points="71.5,456.25 120.2,490.75 144.55,490 168.9,487 193.25,489.5 217.6,491.25" fill="none" stroke="#0a0a0a" stroke-width="1.6" stroke-linejoin="round"/>
<polyline points="71.5,447 120.2,475 144.55,477.5 168.9,473.25 193.25,474.5 217.6,478" fill="none" stroke="#0a0a0a" stroke-width="1.5" stroke-linejoin="round" stroke-dasharray="3.3 0.8"/>
<circle cx="71.5" cy="456.25" r="3.7" fill="#0a0a0a"/>
<circle cx="120.2" cy="490.75" r="3.7" fill="#0a0a0a"/>
<circle cx="144.55" cy="490" r="3.7" fill="#0a0a0a"/>
<circle cx="168.9" cy="487" r="3.7" fill="#0a0a0a"/>
<circle cx="193.25" cy="489.5" r="3.7" fill="#0a0a0a"/>
<circle cx="217.6" cy="491.25" r="3.7" fill="#0a0a0a"/>
<circle cx="71.5" cy="447" r="3.1" fill="#fff" stroke="#0a0a0a" stroke-width="1.25"/>
<circle cx="120.2" cy="475" r="3.1" fill="#fff" stroke="#0a0a0a" stroke-width="1.25"/>
<circle cx="144.55" cy="477.5" r="3.1" fill="#fff" stroke="#0a0a0a" stroke-width="1.25"/>
<circle cx="168.9" cy="473.25" r="3.1" fill="#fff" stroke="#0a0a0a" stroke-width="1.25"/>
<circle cx="193.25" cy="474.5" r="3.1" fill="#fff" stroke="#0a0a0a" stroke-width="1.25"/>
<circle cx="217.6" cy="478" r="3.1" fill="#fff" stroke="#0a0a0a" stroke-width="1.25"/>
<text x="120.5" y="511.75" font-size="16.5" font-weight="bold" text-anchor="middle">*</text>
<text x="193.25" y="511.75" font-size="16.5" font-weight="bold" text-anchor="middle">*</text>
<text x="98.5" y="427.6" font-size="10.6" stroke="#0a0a0a" stroke-width="0.45" text-anchor="middle">Injection</text>
<line x1="98.25" y1="437.6" x2="98.25" y2="450.7" stroke="#0a0a0a" stroke-width="1.6" stroke-linecap="butt"/>
<path d="M98.25 454.3 L95.05 448.3 L98.25 449.14 L101.45 448.3 Z" fill="#0a0a0a"/>
<line x1="180.7" y1="411.25" x2="195.5" y2="411.25" stroke="#0a0a0a" stroke-width="1.25" stroke-linecap="butt"/>
<circle cx="188" cy="411.25" r="3.1" fill="#fff" stroke="#0a0a0a" stroke-width="1.25"/>
<text x="200.5" y="414" font-size="12.5" stroke="#0a0a0a" stroke-width="0.6" text-anchor="start">Saline</text>
<line x1="180.7" y1="427.2" x2="195.5" y2="427.2" stroke="#0a0a0a" stroke-width="1.6" stroke-linecap="butt"/>
<circle cx="188" cy="427.2" r="3.7" fill="#0a0a0a"/>
<text x="200.5" y="429.6" font-size="12.5" stroke="#0a0a0a" stroke-width="0.6" text-anchor="start">CNO</text>
</g>
<g>
<text x="276.1" y="400.6" font-size="24.9" font-weight="bold" stroke="#0a0a0a" stroke-width="0.8" stroke-linejoin="miter" text-anchor="start">F</text>
<line x1="347.6" y1="407.88" x2="347.6" y2="522.33" stroke="#0a0a0a" stroke-width="1.45" stroke-linecap="butt"/>
<line x1="343.8" y1="408.6" x2="347.6" y2="408.6" stroke="#0a0a0a" stroke-width="1.45" stroke-linecap="butt"/>
<text x="343.2" y="413" font-size="10.7" font-weight="bold" stroke="#0a0a0a" stroke-width="0.3" text-anchor="end">150</text>
<line x1="343.8" y1="446.2" x2="347.6" y2="446.2" stroke="#0a0a0a" stroke-width="1.45" stroke-linecap="butt"/>
<text x="343.2" y="451" font-size="10.7" font-weight="bold" stroke="#0a0a0a" stroke-width="0.3" text-anchor="end">100</text>
<line x1="343.8" y1="483.9" x2="347.6" y2="483.9" stroke="#0a0a0a" stroke-width="1.45" stroke-linecap="butt"/>
<text x="343.2" y="488" font-size="10.7" font-weight="bold" stroke="#0a0a0a" stroke-width="0.3" text-anchor="end">50</text>
<line x1="343.8" y1="521.6" x2="347.6" y2="521.6" stroke="#0a0a0a" stroke-width="1.45" stroke-linecap="butt"/>
<text x="343.2" y="526" font-size="10.7" font-weight="bold" stroke="#0a0a0a" stroke-width="0.3" text-anchor="end">0</text>
<line x1="346.88" y1="521.6" x2="515" y2="521.6" stroke="#0a0a0a" stroke-width="1.45" stroke-linecap="butt"/>
<line x1="359" y1="521.6" x2="359" y2="525" stroke="#0a0a0a" stroke-width="1.45" stroke-linecap="butt"/>
<text x="359" y="537.05" font-size="10.7" font-weight="bold" stroke="#0a0a0a" stroke-width="0.3" text-anchor="middle">-1</text>
<line x1="383.33" y1="521.6" x2="383.33" y2="525" stroke="#0a0a0a" stroke-width="1.45" stroke-linecap="butt"/>
<text x="383.33" y="537.05" font-size="10.7" font-weight="bold" stroke="#0a0a0a" stroke-width="0.3" text-anchor="middle">0</text>
<line x1="407.66" y1="521.6" x2="407.66" y2="525" stroke="#0a0a0a" stroke-width="1.45" stroke-linecap="butt"/>
<text x="407.66" y="537.05" font-size="10.7" font-weight="bold" stroke="#0a0a0a" stroke-width="0.3" text-anchor="middle">1</text>
<line x1="431.99" y1="521.6" x2="431.99" y2="525" stroke="#0a0a0a" stroke-width="1.45" stroke-linecap="butt"/>
<text x="431.99" y="537.05" font-size="10.7" font-weight="bold" stroke="#0a0a0a" stroke-width="0.3" text-anchor="middle">2</text>
<line x1="456.32" y1="521.6" x2="456.32" y2="525" stroke="#0a0a0a" stroke-width="1.45" stroke-linecap="butt"/>
<text x="456.32" y="537.05" font-size="10.7" font-weight="bold" stroke="#0a0a0a" stroke-width="0.3" text-anchor="middle">3</text>
<line x1="480.65" y1="521.6" x2="480.65" y2="525" stroke="#0a0a0a" stroke-width="1.45" stroke-linecap="butt"/>
<text x="480.65" y="537.05" font-size="10.7" font-weight="bold" stroke="#0a0a0a" stroke-width="0.3" text-anchor="middle">4</text>
<line x1="504.98" y1="521.6" x2="504.98" y2="525" stroke="#0a0a0a" stroke-width="1.45" stroke-linecap="butt"/>
<text x="504.98" y="537.05" font-size="10.7" font-weight="bold" stroke="#0a0a0a" stroke-width="0.3" text-anchor="middle">5</text>
<text x="431" y="553.8" font-size="11.7" stroke="#0a0a0a" stroke-width="0.6" text-anchor="middle">Time (h)</text>
<text x="300.9" y="462.9" font-size="13.2" stroke="#0a0a0a" stroke-width="0.6" text-anchor="middle" transform="rotate(-90 300.9 462.9)">VO<tspan font-size="12" dy="3.8">2</tspan></text>
<text x="318.4" y="458.2" font-size="12.55" stroke="#0a0a0a" stroke-width="0.6" text-anchor="middle" transform="rotate(-90 318.4 458.2)">(Nml per h per mouse)</text>
<line x1="359" y1="428.75" x2="359" y2="448.75" stroke="#0a0a0a" stroke-width="1.2" stroke-linecap="butt"/>
<line x1="355.4" y1="428.75" x2="362.6" y2="428.75" stroke="#0a0a0a" stroke-width="1.2" stroke-linecap="butt"/>
<line x1="355.4" y1="448.75" x2="362.6" y2="448.75" stroke="#0a0a0a" stroke-width="1.2" stroke-linecap="butt"/>
<line x1="407.66" y1="409.5" x2="407.66" y2="433" stroke="#0a0a0a" stroke-width="1.2" stroke-linecap="butt"/>
<line x1="404.06" y1="409.5" x2="411.26" y2="409.5" stroke="#0a0a0a" stroke-width="1.2" stroke-linecap="butt"/>
<line x1="404.06" y1="433" x2="411.26" y2="433" stroke="#0a0a0a" stroke-width="1.2" stroke-linecap="butt"/>
<line x1="431.99" y1="417.5" x2="431.99" y2="441.25" stroke="#0a0a0a" stroke-width="1.2" stroke-linecap="butt"/>
<line x1="428.39" y1="417.5" x2="435.59" y2="417.5" stroke="#0a0a0a" stroke-width="1.2" stroke-linecap="butt"/>
<line x1="428.39" y1="441.25" x2="435.59" y2="441.25" stroke="#0a0a0a" stroke-width="1.2" stroke-linecap="butt"/>
<line x1="456.32" y1="431.25" x2="456.32" y2="443.25" stroke="#0a0a0a" stroke-width="1.2" stroke-linecap="butt"/>
<line x1="452.72" y1="431.25" x2="459.92" y2="431.25" stroke="#0a0a0a" stroke-width="1.2" stroke-linecap="butt"/>
<line x1="452.72" y1="443.25" x2="459.92" y2="443.25" stroke="#0a0a0a" stroke-width="1.2" stroke-linecap="butt"/>
<line x1="480.65" y1="435.75" x2="480.65" y2="450.25" stroke="#0a0a0a" stroke-width="1.2" stroke-linecap="butt"/>
<line x1="477.05" y1="435.75" x2="484.25" y2="435.75" stroke="#0a0a0a" stroke-width="1.2" stroke-linecap="butt"/>
<line x1="477.05" y1="450.25" x2="484.25" y2="450.25" stroke="#0a0a0a" stroke-width="1.2" stroke-linecap="butt"/>
<line x1="504.98" y1="442.5" x2="504.98" y2="456.5" stroke="#0a0a0a" stroke-width="1.2" stroke-linecap="butt"/>
<line x1="501.38" y1="442.5" x2="508.58" y2="442.5" stroke="#0a0a0a" stroke-width="1.2" stroke-linecap="butt"/>
<line x1="501.38" y1="456.5" x2="508.58" y2="456.5" stroke="#0a0a0a" stroke-width="1.2" stroke-linecap="butt"/>
<line x1="359" y1="441.25" x2="359" y2="453.75" stroke="#0a0a0a" stroke-width="1.2" stroke-linecap="butt"/>
<line x1="355.4" y1="441.25" x2="362.6" y2="441.25" stroke="#0a0a0a" stroke-width="1.2" stroke-linecap="butt"/>
<line x1="355.4" y1="453.75" x2="362.6" y2="453.75" stroke="#0a0a0a" stroke-width="1.2" stroke-linecap="butt"/>
<line x1="407.66" y1="442.25" x2="407.66" y2="445.25" stroke="#0a0a0a" stroke-width="1.2" stroke-linecap="butt"/>
<line x1="404.06" y1="442.25" x2="411.26" y2="442.25" stroke="#0a0a0a" stroke-width="1.2" stroke-linecap="butt"/>
<line x1="404.06" y1="445.25" x2="411.26" y2="445.25" stroke="#0a0a0a" stroke-width="1.2" stroke-linecap="butt"/>
<line x1="431.99" y1="446.25" x2="431.99" y2="452.25" stroke="#0a0a0a" stroke-width="1.2" stroke-linecap="butt"/>
<line x1="428.39" y1="446.25" x2="435.59" y2="446.25" stroke="#0a0a0a" stroke-width="1.2" stroke-linecap="butt"/>
<line x1="428.39" y1="452.25" x2="435.59" y2="452.25" stroke="#0a0a0a" stroke-width="1.2" stroke-linecap="butt"/>
<line x1="456.32" y1="452" x2="456.32" y2="463.75" stroke="#0a0a0a" stroke-width="1.2" stroke-linecap="butt"/>
<line x1="452.72" y1="452" x2="459.92" y2="452" stroke="#0a0a0a" stroke-width="1.2" stroke-linecap="butt"/>
<line x1="452.72" y1="463.75" x2="459.92" y2="463.75" stroke="#0a0a0a" stroke-width="1.2" stroke-linecap="butt"/>
<line x1="480.65" y1="447.5" x2="480.65" y2="460" stroke="#0a0a0a" stroke-width="1.2" stroke-linecap="butt"/>
<line x1="477.05" y1="447.5" x2="484.25" y2="447.5" stroke="#0a0a0a" stroke-width="1.2" stroke-linecap="butt"/>
<line x1="477.05" y1="460" x2="484.25" y2="460" stroke="#0a0a0a" stroke-width="1.2" stroke-linecap="butt"/>
<line x1="504.98" y1="454.5" x2="504.98" y2="467" stroke="#0a0a0a" stroke-width="1.2" stroke-linecap="butt"/>
<line x1="501.38" y1="454.5" x2="508.58" y2="454.5" stroke="#0a0a0a" stroke-width="1.2" stroke-linecap="butt"/>
<line x1="501.38" y1="467" x2="508.58" y2="467" stroke="#0a0a0a" stroke-width="1.2" stroke-linecap="butt"/>
<polyline points="359,438.75 407.66,420.75 431.99,429.5 456.32,437.5 480.65,443 504.98,449.5" fill="none" stroke="#0a0a0a" stroke-width="1.6" stroke-linejoin="round"/>
<polyline points="359,447.5 407.66,443.75 431.99,449.25 456.32,458.25 480.65,454 504.98,460.75" fill="none" stroke="#0a0a0a" stroke-width="1.5" stroke-linejoin="round" stroke-dasharray="3.3 0.8"/>
<circle cx="359" cy="438.75" r="3.7" fill="#0a0a0a"/>
<circle cx="407.66" cy="420.75" r="3.7" fill="#0a0a0a"/>
<circle cx="431.99" cy="429.5" r="3.7" fill="#0a0a0a"/>
<circle cx="456.32" cy="437.5" r="3.7" fill="#0a0a0a"/>
<circle cx="480.65" cy="443" r="3.7" fill="#0a0a0a"/>
<circle cx="504.98" cy="449.5" r="3.7" fill="#0a0a0a"/>
<circle cx="359" cy="447.5" r="3.1" fill="#fff" stroke="#0a0a0a" stroke-width="1.25"/>
<circle cx="407.66" cy="443.75" r="3.1" fill="#fff" stroke="#0a0a0a" stroke-width="1.25"/>
<circle cx="431.99" cy="449.25" r="3.1" fill="#fff" stroke="#0a0a0a" stroke-width="1.25"/>
<circle cx="456.32" cy="458.25" r="3.1" fill="#fff" stroke="#0a0a0a" stroke-width="1.25"/>
<circle cx="480.65" cy="454" r="3.1" fill="#fff" stroke="#0a0a0a" stroke-width="1.25"/>
<circle cx="504.98" cy="460.75" r="3.1" fill="#fff" stroke="#0a0a0a" stroke-width="1.25"/>
<text x="407.5" y="406.85" font-size="16.2" font-weight="bold" text-anchor="middle">*</text>
<text x="432" y="419.35" font-size="16.2" font-weight="bold" text-anchor="middle">*</text>
<text x="456.25" y="431.1" font-size="16.2" font-weight="bold" text-anchor="middle">*</text>
<line x1="381.1" y1="471.7" x2="381.1" y2="458.9" stroke="#0a0a0a" stroke-width="1.6" stroke-linecap="butt"/>
<path d="M381.1 455.3 L377.9 461.3 L381.1 460.46 L384.3 461.3 Z" fill="#0a0a0a"/>
<text x="381" y="483.8" font-size="10.6" stroke="#0a0a0a" stroke-width="0.45" text-anchor="middle">Injection</text>
<line x1="457.7" y1="394.5" x2="472.5" y2="394.5" stroke="#0a0a0a" stroke-width="1.25" stroke-linecap="butt"/>
<circle cx="465" cy="394.5" r="3.1" fill="#fff" stroke="#0a0a0a" stroke-width="1.25"/>
<text x="478.1" y="397.7" font-size="12.5" stroke="#0a0a0a" stroke-width="0.6" text-anchor="start">Saline</text>
<line x1="457.7" y1="410" x2="472.5" y2="410" stroke="#0a0a0a" stroke-width="1.6" stroke-linecap="butt"/>
<circle cx="465" cy="410" r="3.7" fill="#0a0a0a"/>
<text x="478.1" y="413.4" font-size="12.5" stroke="#0a0a0a" stroke-width="0.6" text-anchor="start">CNO</text>
</g>
<g>
<text x="-1" y="589.8" font-size="24.9" font-weight="bold" stroke="#0a0a0a" stroke-width="0.8" stroke-linejoin="miter" text-anchor="start">G</text>
<line x1="59.4" y1="599.67" x2="59.4" y2="714.02" stroke="#0a0a0a" stroke-width="1.45" stroke-linecap="butt"/>
<line x1="55.6" y1="600.4" x2="59.4" y2="600.4" stroke="#0a0a0a" stroke-width="1.45" stroke-linecap="butt"/>
<text x="55" y="605" font-size="10.7" font-weight="bold" stroke="#0a0a0a" stroke-width="0.3" text-anchor="end">150</text>
<line x1="55.6" y1="638" x2="59.4" y2="638" stroke="#0a0a0a" stroke-width="1.45" stroke-linecap="butt"/>
<text x="55" y="642" font-size="10.7" font-weight="bold" stroke="#0a0a0a" stroke-width="0.3" text-anchor="end">100</text>
<line x1="55.6" y1="675.6" x2="59.4" y2="675.6" stroke="#0a0a0a" stroke-width="1.45" stroke-linecap="butt"/>
<text x="55" y="680" font-size="10.7" font-weight="bold" stroke="#0a0a0a" stroke-width="0.3" text-anchor="end">50</text>
<line x1="55.6" y1="713.3" x2="59.4" y2="713.3" stroke="#0a0a0a" stroke-width="1.45" stroke-linecap="butt"/>
<text x="55" y="718" font-size="10.7" font-weight="bold" stroke="#0a0a0a" stroke-width="0.3" text-anchor="end">0</text>
<line x1="58.67" y1="713.3" x2="230" y2="713.3" stroke="#0a0a0a" stroke-width="1.45" stroke-linecap="butt"/>
<line x1="71.5" y1="713.3" x2="71.5" y2="716.7" stroke="#0a0a0a" stroke-width="1.45" stroke-linecap="butt"/>
<text x="71.5" y="728.25" font-size="10.7" font-weight="bold" stroke="#0a0a0a" stroke-width="0.3" text-anchor="middle">-1</text>
<line x1="95.85" y1="713.3" x2="95.85" y2="716.7" stroke="#0a0a0a" stroke-width="1.45" stroke-linecap="butt"/>
<text x="95.85" y="728.25" font-size="10.7" font-weight="bold" stroke="#0a0a0a" stroke-width="0.3" text-anchor="middle">0</text>
<line x1="120.2" y1="713.3" x2="120.2" y2="716.7" stroke="#0a0a0a" stroke-width="1.45" stroke-linecap="butt"/>
<text x="120.2" y="728.25" font-size="10.7" font-weight="bold" stroke="#0a0a0a" stroke-width="0.3" text-anchor="middle">1</text>
<line x1="144.55" y1="713.3" x2="144.55" y2="716.7" stroke="#0a0a0a" stroke-width="1.45" stroke-linecap="butt"/>
<text x="144.55" y="728.25" font-size="10.7" font-weight="bold" stroke="#0a0a0a" stroke-width="0.3" text-anchor="middle">2</text>
<line x1="168.9" y1="713.3" x2="168.9" y2="716.7" stroke="#0a0a0a" stroke-width="1.45" stroke-linecap="butt"/>
<text x="168.9" y="728.25" font-size="10.7" font-weight="bold" stroke="#0a0a0a" stroke-width="0.3" text-anchor="middle">3</text>
<line x1="193.25" y1="713.3" x2="193.25" y2="716.7" stroke="#0a0a0a" stroke-width="1.45" stroke-linecap="butt"/>
<text x="193.25" y="728.25" font-size="10.7" font-weight="bold" stroke="#0a0a0a" stroke-width="0.3" text-anchor="middle">4</text>
<line x1="217.6" y1="713.3" x2="217.6" y2="716.7" stroke="#0a0a0a" stroke-width="1.45" stroke-linecap="butt"/>
<text x="217.6" y="728.25" font-size="10.7" font-weight="bold" stroke="#0a0a0a" stroke-width="0.3" text-anchor="middle">5</text>
<text x="143.5" y="745" font-size="11.7" stroke="#0a0a0a" stroke-width="0.6" text-anchor="middle">Time (h)</text>
<text x="13.7" y="656.3" font-size="12.55" stroke="#0a0a0a" stroke-width="0.6" text-anchor="middle" transform="rotate(-90 13.7 656.3)">VCO<tspan font-size="10" dy="3.1">2</tspan></text>
<text x="30.8" y="649.7" font-size="12.65" stroke="#0a0a0a" stroke-width="0.6" text-anchor="middle" transform="rotate(-90 30.8 649.7)">(Nml per h per mouse)</text>
<line x1="71.5" y1="631.25" x2="71.5" y2="651" stroke="#0a0a0a" stroke-width="1.2" stroke-linecap="butt"/>
<line x1="67.9" y1="631.25" x2="75.1" y2="631.25" stroke="#0a0a0a" stroke-width="1.2" stroke-linecap="butt"/>
<line x1="67.9" y1="651" x2="75.1" y2="651" stroke="#0a0a0a" stroke-width="1.2" stroke-linecap="butt"/>
<line x1="120.2" y1="627" x2="120.2" y2="642.5" stroke="#0a0a0a" stroke-width="1.2" stroke-linecap="butt"/>
<line x1="116.6" y1="627" x2="123.8" y2="627" stroke="#0a0a0a" stroke-width="1.2" stroke-linecap="butt"/>
<line x1="116.6" y1="642.5" x2="123.8" y2="642.5" stroke="#0a0a0a" stroke-width="1.2" stroke-linecap="butt"/>
<line x1="144.55" y1="632.5" x2="144.55" y2="651" stroke="#0a0a0a" stroke-width="1.2" stroke-linecap="butt"/>
<line x1="140.95" y1="632.5" x2="148.15" y2="632.5" stroke="#0a0a0a" stroke-width="1.2" stroke-linecap="butt"/>
<line x1="140.95" y1="651" x2="148.15" y2="651" stroke="#0a0a0a" stroke-width="1.2" stroke-linecap="butt"/>
<line x1="168.9" y1="644" x2="168.9" y2="650" stroke="#0a0a0a" stroke-width="1.2" stroke-linecap="butt"/>
<line x1="165.3" y1="644" x2="172.5" y2="644" stroke="#0a0a0a" stroke-width="1.2" stroke-linecap="butt"/>
<line x1="165.3" y1="650" x2="172.5" y2="650" stroke="#0a0a0a" stroke-width="1.2" stroke-linecap="butt"/>
<line x1="193.25" y1="645.75" x2="193.25" y2="658.25" stroke="#0a0a0a" stroke-width="1.2" stroke-linecap="butt"/>
<line x1="189.65" y1="645.75" x2="196.85" y2="645.75" stroke="#0a0a0a" stroke-width="1.2" stroke-linecap="butt"/>
<line x1="189.65" y1="658.25" x2="196.85" y2="658.25" stroke="#0a0a0a" stroke-width="1.2" stroke-linecap="butt"/>
<line x1="217.6" y1="651.25" x2="217.6" y2="661.25" stroke="#0a0a0a" stroke-width="1.2" stroke-linecap="butt"/>
<line x1="214" y1="651.25" x2="221.2" y2="651.25" stroke="#0a0a0a" stroke-width="1.2" stroke-linecap="butt"/>
<line x1="214" y1="661.25" x2="221.2" y2="661.25" stroke="#0a0a0a" stroke-width="1.2" stroke-linecap="butt"/>
<line x1="71.5" y1="640.75" x2="71.5" y2="653" stroke="#0a0a0a" stroke-width="1.2" stroke-linecap="butt"/>
<line x1="67.9" y1="640.75" x2="75.1" y2="640.75" stroke="#0a0a0a" stroke-width="1.2" stroke-linecap="butt"/>
<line x1="67.9" y1="653" x2="75.1" y2="653" stroke="#0a0a0a" stroke-width="1.2" stroke-linecap="butt"/>
<line x1="120.2" y1="648" x2="120.2" y2="651" stroke="#0a0a0a" stroke-width="1.2" stroke-linecap="butt"/>
<line x1="116.6" y1="648" x2="123.8" y2="648" stroke="#0a0a0a" stroke-width="1.2" stroke-linecap="butt"/>
<line x1="116.6" y1="651" x2="123.8" y2="651" stroke="#0a0a0a" stroke-width="1.2" stroke-linecap="butt"/>
<line x1="144.55" y1="649.5" x2="144.55" y2="660.5" stroke="#0a0a0a" stroke-width="1.2" stroke-linecap="butt"/>
<line x1="140.95" y1="649.5" x2="148.15" y2="649.5" stroke="#0a0a0a" stroke-width="1.2" stroke-linecap="butt"/>
<line x1="140.95" y1="660.5" x2="148.15" y2="660.5" stroke="#0a0a0a" stroke-width="1.2" stroke-linecap="butt"/>
<line x1="168.9" y1="653.75" x2="168.9" y2="668" stroke="#0a0a0a" stroke-width="1.2" stroke-linecap="butt"/>
<line x1="165.3" y1="653.75" x2="172.5" y2="653.75" stroke="#0a0a0a" stroke-width="1.2" stroke-linecap="butt"/>
<line x1="165.3" y1="668" x2="172.5" y2="668" stroke="#0a0a0a" stroke-width="1.2" stroke-linecap="butt"/>
<line x1="193.25" y1="650" x2="193.25" y2="665" stroke="#0a0a0a" stroke-width="1.2" stroke-linecap="butt"/>
<line x1="189.65" y1="650" x2="196.85" y2="650" stroke="#0a0a0a" stroke-width="1.2" stroke-linecap="butt"/>
<line x1="189.65" y1="665" x2="196.85" y2="665" stroke="#0a0a0a" stroke-width="1.2" stroke-linecap="butt"/>
<line x1="217.6" y1="659.5" x2="217.6" y2="668.75" stroke="#0a0a0a" stroke-width="1.2" stroke-linecap="butt"/>
<line x1="214" y1="659.5" x2="221.2" y2="659.5" stroke="#0a0a0a" stroke-width="1.2" stroke-linecap="butt"/>
<line x1="214" y1="668.75" x2="221.2" y2="668.75" stroke="#0a0a0a" stroke-width="1.2" stroke-linecap="butt"/>
<polyline points="71.5,640 120.2,635 144.55,641.75 168.9,647 193.25,652 217.6,656.25" fill="none" stroke="#0a0a0a" stroke-width="1.6" stroke-linejoin="round"/>
<polyline points="71.5,646.25 120.2,649.5 144.55,655 168.9,660.75 193.25,657.5 217.6,664.25" fill="none" stroke="#0a0a0a" stroke-width="1.5" stroke-linejoin="round" stroke-dasharray="3.3 0.8"/>
<circle cx="71.5" cy="640" r="3.7" fill="#0a0a0a"/>
<circle cx="120.2" cy="635" r="3.7" fill="#0a0a0a"/>
<circle cx="144.55" cy="641.75" r="3.7" fill="#0a0a0a"/>
<circle cx="168.9" cy="647" r="3.7" fill="#0a0a0a"/>
<circle cx="193.25" cy="652" r="3.7" fill="#0a0a0a"/>
<circle cx="217.6" cy="656.25" r="3.7" fill="#0a0a0a"/>
<circle cx="71.5" cy="646.25" r="3.1" fill="#fff" stroke="#0a0a0a" stroke-width="1.25"/>
<circle cx="120.2" cy="649.5" r="3.1" fill="#fff" stroke="#0a0a0a" stroke-width="1.25"/>
<circle cx="144.55" cy="655" r="3.1" fill="#fff" stroke="#0a0a0a" stroke-width="1.25"/>
<circle cx="168.9" cy="660.75" r="3.1" fill="#fff" stroke="#0a0a0a" stroke-width="1.25"/>
<circle cx="193.25" cy="657.5" r="3.1" fill="#fff" stroke="#0a0a0a" stroke-width="1.25"/>
<circle cx="217.6" cy="664.25" r="3.1" fill="#fff" stroke="#0a0a0a" stroke-width="1.25"/>
<line x1="95.6" y1="667" x2="95.6" y2="654.6" stroke="#0a0a0a" stroke-width="1.6" stroke-linecap="butt"/>
<path d="M95.6 651 L92.4 657 L95.6 656.16 L98.8 657 Z" fill="#0a0a0a"/>
<text x="95.9" y="678.8" font-size="10.6" stroke="#0a0a0a" stroke-width="0.45" text-anchor="middle">Injection</text>
<line x1="175.7" y1="600.5" x2="190.5" y2="600.5" stroke="#0a0a0a" stroke-width="1.25" stroke-linecap="butt"/>
<circle cx="183" cy="600.5" r="3.1" fill="#fff" stroke="#0a0a0a" stroke-width="1.25"/>
<text x="196.25" y="603.9" font-size="12.5" stroke="#0a0a0a" stroke-width="0.6" text-anchor="start">Saline</text>
<line x1="175.7" y1="616.75" x2="190.5" y2="616.75" stroke="#0a0a0a" stroke-width="1.6" stroke-linecap="butt"/>
<circle cx="183" cy="616.75" r="3.7" fill="#0a0a0a"/>
<text x="196.25" y="620.2" font-size="12.5" stroke="#0a0a0a" stroke-width="0.6" text-anchor="start">CNO</text>
</g>
<g>
<text x="274.5" y="590.1" font-size="24.9" font-weight="bold" stroke="#0a0a0a" stroke-width="0.8" stroke-linejoin="miter" text-anchor="start">H</text>
<line x1="346.1" y1="598.27" x2="346.1" y2="715.48" stroke="#0a0a0a" stroke-width="1.45" stroke-linecap="butt"/>
<line x1="342.3" y1="599" x2="346.1" y2="599" stroke="#0a0a0a" stroke-width="1.45" stroke-linecap="butt"/>
<text x="340.8" y="603" font-size="10.7" font-weight="bold" stroke="#0a0a0a" stroke-width="0.3" text-anchor="end">600</text>
<line x1="342.3" y1="637.6" x2="346.1" y2="637.6" stroke="#0a0a0a" stroke-width="1.45" stroke-linecap="butt"/>
<text x="340.8" y="642" font-size="10.7" font-weight="bold" stroke="#0a0a0a" stroke-width="0.3" text-anchor="end">400</text>
<line x1="342.3" y1="676.2" x2="346.1" y2="676.2" stroke="#0a0a0a" stroke-width="1.45" stroke-linecap="butt"/>
<text x="340.8" y="681" font-size="10.7" font-weight="bold" stroke="#0a0a0a" stroke-width="0.3" text-anchor="end">200</text>
<line x1="342.3" y1="714.75" x2="346.1" y2="714.75" stroke="#0a0a0a" stroke-width="1.45" stroke-linecap="butt"/>
<text x="340.8" y="719" font-size="10.7" font-weight="bold" stroke="#0a0a0a" stroke-width="0.3" text-anchor="end">0</text>
<line x1="345.38" y1="714.75" x2="520" y2="714.75" stroke="#0a0a0a" stroke-width="1.45" stroke-linecap="butt"/>
<line x1="358.6" y1="714.75" x2="358.6" y2="718.15" stroke="#0a0a0a" stroke-width="1.45" stroke-linecap="butt"/>
<text x="358.6" y="730.25" font-size="10.7" font-weight="bold" stroke="#0a0a0a" stroke-width="0.3" text-anchor="middle">-1</text>
<line x1="383.4" y1="714.75" x2="383.4" y2="718.15" stroke="#0a0a0a" stroke-width="1.45" stroke-linecap="butt"/>
<text x="383.4" y="730.25" font-size="10.7" font-weight="bold" stroke="#0a0a0a" stroke-width="0.3" text-anchor="middle">0</text>
<line x1="408.2" y1="714.75" x2="408.2" y2="718.15" stroke="#0a0a0a" stroke-width="1.45" stroke-linecap="butt"/>
<text x="408.2" y="730.25" font-size="10.7" font-weight="bold" stroke="#0a0a0a" stroke-width="0.3" text-anchor="middle">1</text>
<line x1="433" y1="714.75" x2="433" y2="718.15" stroke="#0a0a0a" stroke-width="1.45" stroke-linecap="butt"/>
<text x="433" y="730.25" font-size="10.7" font-weight="bold" stroke="#0a0a0a" stroke-width="0.3" text-anchor="middle">2</text>
<line x1="457.8" y1="714.75" x2="457.8" y2="718.15" stroke="#0a0a0a" stroke-width="1.45" stroke-linecap="butt"/>
<text x="457.8" y="730.25" font-size="10.7" font-weight="bold" stroke="#0a0a0a" stroke-width="0.3" text-anchor="middle">3</text>
<line x1="482.6" y1="714.75" x2="482.6" y2="718.15" stroke="#0a0a0a" stroke-width="1.45" stroke-linecap="butt"/>
<text x="482.6" y="730.25" font-size="10.7" font-weight="bold" stroke="#0a0a0a" stroke-width="0.3" text-anchor="middle">4</text>
<line x1="507.4" y1="714.75" x2="507.4" y2="718.15" stroke="#0a0a0a" stroke-width="1.45" stroke-linecap="butt"/>
<text x="507.4" y="730.25" font-size="10.7" font-weight="bold" stroke="#0a0a0a" stroke-width="0.3" text-anchor="middle">5</text>
<text x="431.6" y="747.9" font-size="11.7" stroke="#0a0a0a" stroke-width="0.6" text-anchor="middle">Time (h)</text>
<text x="301" y="657.3" font-size="12.55" stroke="#0a0a0a" stroke-width="0.6" text-anchor="middle" transform="rotate(-90 301 657.3)">Fat oxidation</text>
<text x="314.8" y="656" font-size="12.55" stroke="#0a0a0a" stroke-width="0.6" text-anchor="middle" transform="rotate(-90 314.8 656)">(cal per h per mouse)</text>
<line x1="358.6" y1="656.25" x2="358.6" y2="688.75" stroke="#0a0a0a" stroke-width="1.2" stroke-linecap="butt"/>
<line x1="355" y1="656.25" x2="362.2" y2="656.25" stroke="#0a0a0a" stroke-width="1.2" stroke-linecap="butt"/>
<line x1="355" y1="688.75" x2="362.2" y2="688.75" stroke="#0a0a0a" stroke-width="1.2" stroke-linecap="butt"/>
<line x1="408.2" y1="608.25" x2="408.2" y2="642.5" stroke="#0a0a0a" stroke-width="1.2" stroke-linecap="butt"/>
<line x1="404.6" y1="608.25" x2="411.8" y2="608.25" stroke="#0a0a0a" stroke-width="1.2" stroke-linecap="butt"/>
<line x1="404.6" y1="642.5" x2="411.8" y2="642.5" stroke="#0a0a0a" stroke-width="1.2" stroke-linecap="butt"/>
<line x1="433" y1="624.5" x2="433" y2="647.5" stroke="#0a0a0a" stroke-width="1.2" stroke-linecap="butt"/>
<line x1="429.4" y1="624.5" x2="436.6" y2="624.5" stroke="#0a0a0a" stroke-width="1.2" stroke-linecap="butt"/>
<line x1="429.4" y1="647.5" x2="436.6" y2="647.5" stroke="#0a0a0a" stroke-width="1.2" stroke-linecap="butt"/>
<line x1="457.8" y1="635.75" x2="457.8" y2="656" stroke="#0a0a0a" stroke-width="1.2" stroke-linecap="butt"/>
<line x1="454.2" y1="635.75" x2="461.4" y2="635.75" stroke="#0a0a0a" stroke-width="1.2" stroke-linecap="butt"/>
<line x1="454.2" y1="656" x2="461.4" y2="656" stroke="#0a0a0a" stroke-width="1.2" stroke-linecap="butt"/>
<line x1="482.6" y1="639.25" x2="482.6" y2="657" stroke="#0a0a0a" stroke-width="1.2" stroke-linecap="butt"/>
<line x1="479" y1="639.25" x2="486.2" y2="639.25" stroke="#0a0a0a" stroke-width="1.2" stroke-linecap="butt"/>
<line x1="479" y1="657" x2="486.2" y2="657" stroke="#0a0a0a" stroke-width="1.2" stroke-linecap="butt"/>
<line x1="507.4" y1="645" x2="507.4" y2="663" stroke="#0a0a0a" stroke-width="1.2" stroke-linecap="butt"/>
<line x1="503.8" y1="645" x2="511" y2="645" stroke="#0a0a0a" stroke-width="1.2" stroke-linecap="butt"/>
<line x1="503.8" y1="663" x2="511" y2="663" stroke="#0a0a0a" stroke-width="1.2" stroke-linecap="butt"/>
<line x1="358.6" y1="678" x2="358.6" y2="699.25" stroke="#0a0a0a" stroke-width="1.2" stroke-linecap="butt"/>
<line x1="355" y1="678" x2="362.2" y2="678" stroke="#0a0a0a" stroke-width="1.2" stroke-linecap="butt"/>
<line x1="355" y1="699.25" x2="362.2" y2="699.25" stroke="#0a0a0a" stroke-width="1.2" stroke-linecap="butt"/>
<line x1="408.2" y1="651.75" x2="408.2" y2="668.75" stroke="#0a0a0a" stroke-width="1.2" stroke-linecap="butt"/>
<line x1="404.6" y1="651.75" x2="411.8" y2="651.75" stroke="#0a0a0a" stroke-width="1.2" stroke-linecap="butt"/>
<line x1="404.6" y1="668.75" x2="411.8" y2="668.75" stroke="#0a0a0a" stroke-width="1.2" stroke-linecap="butt"/>
<line x1="433" y1="649.9" x2="433" y2="675.75" stroke="#0a0a0a" stroke-width="1.2" stroke-linecap="butt"/>
<line x1="429.4" y1="649.9" x2="436.6" y2="649.9" stroke="#0a0a0a" stroke-width="1.2" stroke-linecap="butt"/>
<line x1="429.4" y1="675.75" x2="436.6" y2="675.75" stroke="#0a0a0a" stroke-width="1.2" stroke-linecap="butt"/>
<line x1="457.8" y1="658.2" x2="457.8" y2="686.25" stroke="#0a0a0a" stroke-width="1.2" stroke-linecap="butt"/>
<line x1="454.2" y1="658.2" x2="461.4" y2="658.2" stroke="#0a0a0a" stroke-width="1.2" stroke-linecap="butt"/>
<line x1="454.2" y1="686.25" x2="461.4" y2="686.25" stroke="#0a0a0a" stroke-width="1.2" stroke-linecap="butt"/>
<line x1="482.6" y1="657" x2="482.6" y2="678.25" stroke="#0a0a0a" stroke-width="1.2" stroke-linecap="butt"/>
<line x1="479" y1="657" x2="486.2" y2="657" stroke="#0a0a0a" stroke-width="1.2" stroke-linecap="butt"/>
<line x1="479" y1="678.25" x2="486.2" y2="678.25" stroke="#0a0a0a" stroke-width="1.2" stroke-linecap="butt"/>
<line x1="507.4" y1="660" x2="507.4" y2="682" stroke="#0a0a0a" stroke-width="1.2" stroke-linecap="butt"/>
<line x1="503.8" y1="660" x2="511" y2="660" stroke="#0a0a0a" stroke-width="1.2" stroke-linecap="butt"/>
<line x1="503.8" y1="682" x2="511" y2="682" stroke="#0a0a0a" stroke-width="1.2" stroke-linecap="butt"/>
<polyline points="358.6,672.5 408.2,625.75 433,636.25 457.8,645.5 482.6,648 507.4,654.25" fill="none" stroke="#0a0a0a" stroke-width="1.6" stroke-linejoin="round"/>
<polyline points="358.6,688.75 408.2,660.5 433,663 457.8,672 482.6,668 507.4,670" fill="none" stroke="#0a0a0a" stroke-width="1.5" stroke-linejoin="round" stroke-dasharray="3.3 0.8"/>
<circle cx="358.6" cy="672.5" r="3.7" fill="#0a0a0a"/>
<circle cx="408.2" cy="625.75" r="3.7" fill="#0a0a0a"/>
<circle cx="433" cy="636.25" r="3.7" fill="#0a0a0a"/>
<circle cx="457.8" cy="645.5" r="3.7" fill="#0a0a0a"/>
<circle cx="482.6" cy="648" r="3.7" fill="#0a0a0a"/>
<circle cx="507.4" cy="654.25" r="3.7" fill="#0a0a0a"/>
<circle cx="358.6" cy="688.75" r="3.1" fill="#fff" stroke="#0a0a0a" stroke-width="1.25"/>
<circle cx="408.2" cy="660.5" r="3.1" fill="#fff" stroke="#0a0a0a" stroke-width="1.25"/>
<circle cx="433" cy="663" r="3.1" fill="#fff" stroke="#0a0a0a" stroke-width="1.25"/>
<circle cx="457.8" cy="672" r="3.1" fill="#fff" stroke="#0a0a0a" stroke-width="1.25"/>
<circle cx="482.6" cy="668" r="3.1" fill="#fff" stroke="#0a0a0a" stroke-width="1.25"/>
<circle cx="507.4" cy="670" r="3.1" fill="#fff" stroke="#0a0a0a" stroke-width="1.25"/>
<text x="407.9" y="607.8" font-size="16.2" font-weight="bold" text-anchor="middle">*</text>
<text x="432.9" y="624.8" font-size="16.2" font-weight="bold" text-anchor="middle">*</text>
<text x="457.5" y="636.5" font-size="16.2" font-weight="bold" text-anchor="middle">*</text>
<text x="483" y="641.5" font-size="16.2" font-weight="bold" text-anchor="middle">*</text>
<text x="381" y="618.8" font-size="10.9" stroke="#0a0a0a" stroke-width="0.45" text-anchor="middle">Injection</text>
<line x1="380.5" y1="629.5" x2="380.5" y2="642.7" stroke="#0a0a0a" stroke-width="1.6" stroke-linecap="butt"/>
<path d="M380.5 646.3 L377.3 640.3 L380.5 641.14 L383.7 640.3 Z" fill="#0a0a0a"/>
<line x1="465.2" y1="603.4" x2="480" y2="603.4" stroke="#0a0a0a" stroke-width="1.25" stroke-linecap="butt"/>
<circle cx="472.5" cy="603.4" r="3.1" fill="#fff" stroke="#0a0a0a" stroke-width="1.25"/>
<text x="485.4" y="606.6" font-size="12.8" stroke="#0a0a0a" stroke-width="0.6" text-anchor="start">Saline</text>
<line x1="465.2" y1="618" x2="480" y2="618" stroke="#0a0a0a" stroke-width="1.6" stroke-linecap="butt"/>
<circle cx="472.5" cy="618" r="3.7" fill="#0a0a0a"/>
<text x="485.4" y="621.9" font-size="12.8" stroke="#0a0a0a" stroke-width="0.6" text-anchor="start">CNO</text>
</g>
<g>
<text x="5" y="777.7" font-size="24.9" font-weight="bold" stroke="#0a0a0a" stroke-width="0.8" stroke-linejoin="miter" text-anchor="start">I</text>
<line x1="59.8" y1="798.02" x2="59.8" y2="909.98" stroke="#0a0a0a" stroke-width="1.45" stroke-linecap="butt"/>
<line x1="56" y1="798.75" x2="59.8" y2="798.75" stroke="#0a0a0a" stroke-width="1.45" stroke-linecap="butt"/>
<text x="55.4" y="803" font-size="10.7" font-weight="bold" stroke="#0a0a0a" stroke-width="0.3" text-anchor="end">600</text>
<line x1="56" y1="835.6" x2="59.8" y2="835.6" stroke="#0a0a0a" stroke-width="1.45" stroke-linecap="butt"/>
<text x="55.4" y="840" font-size="10.7" font-weight="bold" stroke="#0a0a0a" stroke-width="0.3" text-anchor="end">400</text>
<line x1="56" y1="872.4" x2="59.8" y2="872.4" stroke="#0a0a0a" stroke-width="1.45" stroke-linecap="butt"/>
<text x="55.4" y="877" font-size="10.7" font-weight="bold" stroke="#0a0a0a" stroke-width="0.3" text-anchor="end">200</text>
<line x1="56" y1="909.25" x2="59.8" y2="909.25" stroke="#0a0a0a" stroke-width="1.45" stroke-linecap="butt"/>
<text x="55.4" y="914" font-size="10.7" font-weight="bold" stroke="#0a0a0a" stroke-width="0.3" text-anchor="end">0</text>
<line x1="59.07" y1="909.25" x2="225" y2="909.25" stroke="#0a0a0a" stroke-width="1.45" stroke-linecap="butt"/>
<line x1="71.25" y1="909.25" x2="71.25" y2="912.65" stroke="#0a0a0a" stroke-width="1.45" stroke-linecap="butt"/>
<text x="71.25" y="923.35" font-size="10.7" font-weight="bold" stroke="#0a0a0a" stroke-width="0.3" text-anchor="middle">-1</text>
<line x1="95" y1="909.25" x2="95" y2="912.65" stroke="#0a0a0a" stroke-width="1.45" stroke-linecap="butt"/>
<text x="95" y="923.35" font-size="10.7" font-weight="bold" stroke="#0a0a0a" stroke-width="0.3" text-anchor="middle">0</text>
<line x1="118.75" y1="909.25" x2="118.75" y2="912.65" stroke="#0a0a0a" stroke-width="1.45" stroke-linecap="butt"/>
<text x="118.75" y="923.35" font-size="10.7" font-weight="bold" stroke="#0a0a0a" stroke-width="0.3" text-anchor="middle">1</text>
<line x1="142.5" y1="909.25" x2="142.5" y2="912.65" stroke="#0a0a0a" stroke-width="1.45" stroke-linecap="butt"/>
<text x="142.5" y="923.35" font-size="10.7" font-weight="bold" stroke="#0a0a0a" stroke-width="0.3" text-anchor="middle">2</text>
<line x1="166.25" y1="909.25" x2="166.25" y2="912.65" stroke="#0a0a0a" stroke-width="1.45" stroke-linecap="butt"/>
<text x="166.25" y="923.35" font-size="10.7" font-weight="bold" stroke="#0a0a0a" stroke-width="0.3" text-anchor="middle">3</text>
<line x1="190" y1="909.25" x2="190" y2="912.65" stroke="#0a0a0a" stroke-width="1.45" stroke-linecap="butt"/>
<text x="190" y="923.35" font-size="10.7" font-weight="bold" stroke="#0a0a0a" stroke-width="0.3" text-anchor="middle">4</text>
<line x1="213.75" y1="909.25" x2="213.75" y2="912.65" stroke="#0a0a0a" stroke-width="1.45" stroke-linecap="butt"/>
<text x="213.75" y="923.35" font-size="10.7" font-weight="bold" stroke="#0a0a0a" stroke-width="0.3" text-anchor="middle">5</text>
<text x="142" y="941.2" font-size="11.7" stroke="#0a0a0a" stroke-width="0.6" text-anchor="middle">Time (h)</text>
<text x="14.6" y="851" font-size="12.55" stroke="#0a0a0a" stroke-width="0.6" text-anchor="middle" transform="rotate(-90 14.6 851)">Carbohydrate oxidation</text>
<text x="29.1" y="850.2" font-size="12.5" stroke="#0a0a0a" stroke-width="0.6" text-anchor="middle" transform="rotate(-90 29.1 850.2)">(cal per h per mouse)</text>
<line x1="71.25" y1="823.5" x2="71.25" y2="865.5" stroke="#0a0a0a" stroke-width="1.2" stroke-linecap="butt"/>
<line x1="67.65" y1="823.5" x2="74.85" y2="823.5" stroke="#0a0a0a" stroke-width="1.2" stroke-linecap="butt"/>
<line x1="67.65" y1="865.5" x2="74.85" y2="865.5" stroke="#0a0a0a" stroke-width="1.2" stroke-linecap="butt"/>
<line x1="118.75" y1="869.75" x2="118.75" y2="878.75" stroke="#0a0a0a" stroke-width="1.2" stroke-linecap="butt"/>
<line x1="115.15" y1="869.75" x2="122.35" y2="869.75" stroke="#0a0a0a" stroke-width="1.2" stroke-linecap="butt"/>
<line x1="115.15" y1="878.75" x2="122.35" y2="878.75" stroke="#0a0a0a" stroke-width="1.2" stroke-linecap="butt"/>
<line x1="142.5" y1="869" x2="142.5" y2="882.5" stroke="#0a0a0a" stroke-width="1.2" stroke-linecap="butt"/>
<line x1="138.9" y1="869" x2="146.1" y2="869" stroke="#0a0a0a" stroke-width="1.2" stroke-linecap="butt"/>
<line x1="138.9" y1="882.5" x2="146.1" y2="882.5" stroke="#0a0a0a" stroke-width="1.2" stroke-linecap="butt"/>
<line x1="166.25" y1="869.75" x2="166.25" y2="881.25" stroke="#0a0a0a" stroke-width="1.2" stroke-linecap="butt"/>
<line x1="162.65" y1="869.75" x2="169.85" y2="869.75" stroke="#0a0a0a" stroke-width="1.2" stroke-linecap="butt"/>
<line x1="162.65" y1="881.25" x2="169.85" y2="881.25" stroke="#0a0a0a" stroke-width="1.2" stroke-linecap="butt"/>
<line x1="190" y1="875.25" x2="190" y2="886.25" stroke="#0a0a0a" stroke-width="1.2" stroke-linecap="butt"/>
<line x1="186.4" y1="875.25" x2="193.6" y2="875.25" stroke="#0a0a0a" stroke-width="1.2" stroke-linecap="butt"/>
<line x1="186.4" y1="886.25" x2="193.6" y2="886.25" stroke="#0a0a0a" stroke-width="1.2" stroke-linecap="butt"/>
<line x1="213.75" y1="870.5" x2="213.75" y2="885.5" stroke="#0a0a0a" stroke-width="1.2" stroke-linecap="butt"/>
<line x1="210.15" y1="870.5" x2="217.35" y2="870.5" stroke="#0a0a0a" stroke-width="1.2" stroke-linecap="butt"/>
<line x1="210.15" y1="885.5" x2="217.35" y2="885.5" stroke="#0a0a0a" stroke-width="1.2" stroke-linecap="butt"/>
<line x1="71.25" y1="823.25" x2="71.25" y2="853.25" stroke="#0a0a0a" stroke-width="1.2" stroke-linecap="butt"/>
<line x1="67.65" y1="823.25" x2="74.85" y2="823.25" stroke="#0a0a0a" stroke-width="1.2" stroke-linecap="butt"/>
<line x1="67.65" y1="853.25" x2="74.85" y2="853.25" stroke="#0a0a0a" stroke-width="1.2" stroke-linecap="butt"/>
<line x1="118.75" y1="858.75" x2="118.75" y2="873.75" stroke="#0a0a0a" stroke-width="1.2" stroke-linecap="butt"/>
<line x1="115.15" y1="858.75" x2="122.35" y2="858.75" stroke="#0a0a0a" stroke-width="1.2" stroke-linecap="butt"/>
<line x1="115.15" y1="873.75" x2="122.35" y2="873.75" stroke="#0a0a0a" stroke-width="1.2" stroke-linecap="butt"/>
<line x1="142.5" y1="853.75" x2="142.5" y2="889" stroke="#0a0a0a" stroke-width="1.2" stroke-linecap="butt"/>
<line x1="138.9" y1="853.75" x2="146.1" y2="853.75" stroke="#0a0a0a" stroke-width="1.2" stroke-linecap="butt"/>
<line x1="138.9" y1="889" x2="146.1" y2="889" stroke="#0a0a0a" stroke-width="1.2" stroke-linecap="butt"/>
<line x1="166.25" y1="853.25" x2="166.25" y2="891" stroke="#0a0a0a" stroke-width="1.2" stroke-linecap="butt"/>
<line x1="162.65" y1="853.25" x2="169.85" y2="853.25" stroke="#0a0a0a" stroke-width="1.2" stroke-linecap="butt"/>
<line x1="162.65" y1="891" x2="169.85" y2="891" stroke="#0a0a0a" stroke-width="1.2" stroke-linecap="butt"/>
<line x1="190" y1="854.5" x2="190" y2="887" stroke="#0a0a0a" stroke-width="1.2" stroke-linecap="butt"/>
<line x1="186.4" y1="854.5" x2="193.6" y2="854.5" stroke="#0a0a0a" stroke-width="1.2" stroke-linecap="butt"/>
<line x1="186.4" y1="887" x2="193.6" y2="887" stroke="#0a0a0a" stroke-width="1.2" stroke-linecap="butt"/>
<line x1="213.75" y1="867" x2="213.75" y2="889.5" stroke="#0a0a0a" stroke-width="1.2" stroke-linecap="butt"/>
<line x1="210.15" y1="867" x2="217.35" y2="867" stroke="#0a0a0a" stroke-width="1.2" stroke-linecap="butt"/>
<line x1="210.15" y1="889.5" x2="217.35" y2="889.5" stroke="#0a0a0a" stroke-width="1.2" stroke-linecap="butt"/>
<polyline points="71.25,844.5 118.75,874.25 142.5,875.75 166.25,875.5 190,880.75 213.75,878" fill="none" stroke="#0a0a0a" stroke-width="1.6" stroke-linejoin="round"/>
<polyline points="71.25,838.25 118.75,866.25 142.5,871.75 166.25,872.5 190,870.75 213.75,878" fill="none" stroke="#0a0a0a" stroke-width="1.5" stroke-linejoin="round" stroke-dasharray="3.3 0.8"/>
<circle cx="71.25" cy="844.5" r="3.7" fill="#0a0a0a"/>
<circle cx="118.75" cy="874.25" r="3.7" fill="#0a0a0a"/>
<circle cx="142.5" cy="875.75" r="3.7" fill="#0a0a0a"/>
<circle cx="166.25" cy="875.5" r="3.7" fill="#0a0a0a"/>
<circle cx="190" cy="880.75" r="3.7" fill="#0a0a0a"/>
<circle cx="213.75" cy="878" r="3.7" fill="#0a0a0a"/>
<circle cx="71.25" cy="838.25" r="3.1" fill="#fff" stroke="#0a0a0a" stroke-width="1.25"/>
<circle cx="118.75" cy="866.25" r="3.1" fill="#fff" stroke="#0a0a0a" stroke-width="1.25"/>
<circle cx="142.5" cy="871.75" r="3.1" fill="#fff" stroke="#0a0a0a" stroke-width="1.25"/>
<circle cx="166.25" cy="872.5" r="3.1" fill="#fff" stroke="#0a0a0a" stroke-width="1.25"/>
<circle cx="190" cy="870.75" r="3.1" fill="#fff" stroke="#0a0a0a" stroke-width="1.25"/>
<circle cx="213.75" cy="878" r="3.1" fill="#fff" stroke="#0a0a0a" stroke-width="1.25"/>
<text x="97.9" y="818.1" font-size="10.6" stroke="#0a0a0a" stroke-width="0.45" text-anchor="middle">Injection</text>
<line x1="97.5" y1="828.3" x2="97.5" y2="840.2" stroke="#0a0a0a" stroke-width="1.6" stroke-linecap="butt"/>
<path d="M97.5 843.8 L94.3 837.8 L97.5 838.64 L100.7 837.8 Z" fill="#0a0a0a"/>
<line x1="171.45" y1="799.5" x2="186.25" y2="799.5" stroke="#0a0a0a" stroke-width="1.25" stroke-linecap="butt"/>
<circle cx="178.75" cy="799.5" r="3.1" fill="#fff" stroke="#0a0a0a" stroke-width="1.25"/>
<text x="191.25" y="802.7" font-size="12.5" stroke="#0a0a0a" stroke-width="0.6" text-anchor="start">Saline</text>
<line x1="171.45" y1="815.5" x2="186.25" y2="815.5" stroke="#0a0a0a" stroke-width="1.6" stroke-linecap="butt"/>
<circle cx="178.75" cy="815.5" r="3.7" fill="#0a0a0a"/>
<text x="191.25" y="818.9" font-size="12.5" stroke="#0a0a0a" stroke-width="0.6" text-anchor="start">CNO</text>
</g>
</svg>
</body>
</html>
